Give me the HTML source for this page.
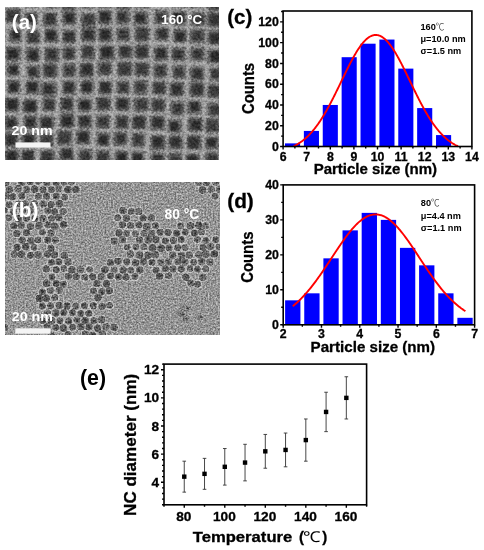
<!DOCTYPE html>
<html><head><meta charset="utf-8"><title>Figure</title>
<style>
html,body{margin:0;padding:0;background:#fff;}
body{width:484px;height:550px;overflow:hidden;}
svg{display:block;}
text{font-family:'Liberation Sans', Arial, sans-serif;}
</style></head><body>
<svg width="484" height="550" viewBox="0 0 484 550">
<defs>
<filter id="blurA" x="-10%" y="-10%" width="120%" height="120%" color-interpolation-filters="sRGB"><feGaussianBlur stdDeviation="1.15"/></filter>
<filter id="noiseA" x="0" y="0" width="100%" height="100%" color-interpolation-filters="sRGB">
<feTurbulence type="fractalNoise" baseFrequency="0.45" numOctaves="2" seed="7" result="n"/>
<feColorMatrix in="n" type="matrix" values="1 0 0 0 0  1 0 0 0 0  1 0 0 0 0  0 0 0 0 1" result="g"/>
<feComponentTransfer in="g" result="g2"><feFuncR type="linear" slope="0.65" intercept="0.175"/><feFuncG type="linear" slope="0.65" intercept="0.175"/><feFuncB type="linear" slope="0.65" intercept="0.175"/></feComponentTransfer>
<feBlend in="g2" in2="SourceGraphic" mode="overlay" result="b"/>
<feGaussianBlur in="b" stdDeviation="0.75"/>
</filter>
<filter id="blurB" x="-5%" y="-5%" width="110%" height="110%" color-interpolation-filters="sRGB"><feGaussianBlur stdDeviation="0.55"/></filter>
<filter id="noiseB" x="0" y="0" width="100%" height="100%" color-interpolation-filters="sRGB">
<feTurbulence type="fractalNoise" baseFrequency="0.6" numOctaves="2" seed="11" result="n"/>
<feColorMatrix in="n" type="matrix" values="1 0 0 0 0  1 0 0 0 0  1 0 0 0 0  0 0 0 0 1" result="g"/>
<feComponentTransfer in="g" result="g2"><feFuncR type="linear" slope="0.85" intercept="0.075"/><feFuncG type="linear" slope="0.85" intercept="0.075"/><feFuncB type="linear" slope="0.85" intercept="0.075"/></feComponentTransfer>
<feBlend in="g2" in2="SourceGraphic" mode="overlay" result="b"/>
<feGaussianBlur in="b" stdDeviation="0.45"/>
</filter>
</defs>
<svg x="5" y="7" width="214" height="153" viewBox="0 0 214 153" overflow="hidden">
<g filter="url(#noiseA)">
<rect width="214" height="153" fill="#a2a2a2"/>
<g filter="url(#blurA)">
<rect x="-17.72" y="-15.87" width="14.53" height="14.32" rx="2" fill="rgb(96,96,96)"/>
<rect x="1.61" y="-15.88" width="14.49" height="13.82" rx="2" fill="rgb(92,92,92)"/>
<rect x="18.63" y="-14.99" width="15.13" height="15.19" rx="2" fill="rgb(100,100,100)"/>
<rect x="39" y="-13.13" width="14" height="14.69" rx="2" fill="rgb(91,91,91)"/>
<rect x="56.27" y="-11.46" width="15.01" height="14.53" rx="2" fill="rgb(88,88,88)"/>
<rect x="74.65" y="-13.67" width="15.04" height="14.86" rx="2" fill="rgb(87,87,87)"/>
<rect x="92.03" y="-14.23" width="14.96" height="15.01" rx="2" fill="rgb(89,89,89)"/>
<rect x="111.07" y="-12.55" width="15.64" height="14.8" rx="2" fill="rgb(86,86,86)"/>
<rect x="128.71" y="-13.11" width="15.29" height="14.42" rx="2" fill="rgb(89,89,89)"/>
<rect x="149.2" y="-14.91" width="13.42" height="13.99" rx="2" fill="rgb(92,92,92)"/>
<rect x="167.3" y="-14.04" width="14.28" height="14.68" rx="2" fill="rgb(94,94,94)"/>
<rect x="184.32" y="-13.17" width="14.46" height="14.29" rx="2" fill="rgb(88,88,88)"/>
<rect x="202.24" y="-10.95" width="15.61" height="14.75" rx="2" fill="rgb(89,89,89)"/>
<rect x="222.02" y="-9.63" width="14.07" height="14.74" rx="2" fill="rgb(100,100,100)"/>
<rect x="239.76" y="-9.07" width="15.2" height="15.07" rx="2" fill="rgb(98,98,98)"/>
<rect x="-16.3" y="0.67" width="15.11" height="14.96" rx="2" fill="rgb(93,93,93)"/>
<rect x="0.45" y="1.37" width="15.98" height="15" rx="2" fill="rgb(89,89,89)"/>
<rect x="19.39" y="4.69" width="13.68" height="14.37" rx="2" fill="rgb(101,101,101)"/>
<rect x="38.01" y="5.09" width="14.11" height="15.02" rx="2" fill="rgb(97,97,97)"/>
<rect x="56.96" y="3.62" width="14.47" height="14.81" rx="2" fill="rgb(98,98,98)"/>
<rect x="75.44" y="6.01" width="15.5" height="14.51" rx="2" fill="rgb(100,100,100)"/>
<rect x="93.15" y="3.04" width="13.7" height="14.64" rx="2" fill="rgb(89,89,89)"/>
<rect x="111.03" y="3.27" width="13.97" height="14.65" rx="2" fill="rgb(95,95,95)"/>
<rect x="128.33" y="4.28" width="15.16" height="14.24" rx="2" fill="rgb(100,100,100)"/>
<rect x="149.19" y="2.97" width="14.48" height="14.44" rx="2" fill="rgb(98,98,98)"/>
<rect x="166.66" y="4.05" width="14.82" height="14.58" rx="2" fill="rgb(92,92,92)"/>
<rect x="185.72" y="4.9" width="14.84" height="14.4" rx="2" fill="rgb(89,89,89)"/>
<rect x="202.01" y="5.12" width="15.21" height="15.17" rx="2" fill="rgb(86,86,86)"/>
<rect x="221.46" y="5.73" width="14.54" height="14.38" rx="2" fill="rgb(100,100,100)"/>
<rect x="238.75" y="7.71" width="13.81" height="14.69" rx="2" fill="rgb(95,95,95)"/>
<rect x="-15.72" y="19.24" width="14.46" height="14.75" rx="2" fill="rgb(88,88,88)"/>
<rect x="3.54" y="21.55" width="12.95" height="13.83" rx="2" fill="rgb(96,96,96)"/>
<rect x="21.2" y="22.95" width="14.06" height="14.15" rx="2" fill="rgb(97,97,97)"/>
<rect x="39.35" y="21.77" width="13.93" height="14.31" rx="2" fill="rgb(92,92,92)"/>
<rect x="57.05" y="22.58" width="13.97" height="14.22" rx="2" fill="rgb(101,101,101)"/>
<rect x="75.85" y="20.51" width="15.07" height="14.6" rx="2" fill="rgb(88,88,88)"/>
<rect x="93.28" y="20.23" width="14.4" height="14.93" rx="2" fill="rgb(97,97,97)"/>
<rect x="111.47" y="20.31" width="13.98" height="14.78" rx="2" fill="rgb(99,99,99)"/>
<rect x="129.69" y="19.77" width="14.84" height="14.97" rx="2" fill="rgb(88,88,88)"/>
<rect x="149.51" y="20.02" width="14.57" height="14.27" rx="2" fill="rgb(102,102,102)"/>
<rect x="168.5" y="21.64" width="13.36" height="14.12" rx="2" fill="rgb(92,92,92)"/>
<rect x="184.75" y="21.66" width="15.61" height="14.93" rx="2" fill="rgb(93,93,93)"/>
<rect x="202.34" y="22.98" width="15.21" height="14.93" rx="2" fill="rgb(97,97,97)"/>
<rect x="223.09" y="24.41" width="13.57" height="13.98" rx="2" fill="rgb(87,87,87)"/>
<rect x="241.08" y="24.37" width="14.12" height="14.28" rx="2" fill="rgb(96,96,96)"/>
<rect x="-16.13" y="36.77" width="14.4" height="15.09" rx="2" fill="rgb(93,93,93)"/>
<rect x="0.29" y="39.28" width="16.01" height="15.03" rx="2" fill="rgb(99,99,99)"/>
<rect x="20.44" y="40.07" width="14.54" height="15.1" rx="2" fill="rgb(100,100,100)"/>
<rect x="39.44" y="40.27" width="14.77" height="14.73" rx="2" fill="rgb(88,88,88)"/>
<rect x="57.31" y="39.09" width="13.25" height="14.12" rx="2" fill="rgb(94,94,94)"/>
<rect x="76" y="37.99" width="14.02" height="14.93" rx="2" fill="rgb(92,92,92)"/>
<rect x="94.19" y="38.34" width="15.89" height="15.09" rx="2" fill="rgb(96,96,96)"/>
<rect x="113.27" y="38.28" width="14.31" height="13.82" rx="2" fill="rgb(91,91,91)"/>
<rect x="129.44" y="37.17" width="14.78" height="14.73" rx="2" fill="rgb(92,92,92)"/>
<rect x="148.59" y="39.45" width="14.34" height="14.66" rx="2" fill="rgb(92,92,92)"/>
<rect x="166.12" y="40.34" width="15.03" height="14.47" rx="2" fill="rgb(100,100,100)"/>
<rect x="184.61" y="39.71" width="15.18" height="14.55" rx="2" fill="rgb(99,99,99)"/>
<rect x="202.18" y="41.95" width="15.7" height="15.09" rx="2" fill="rgb(97,97,97)"/>
<rect x="222.32" y="40.68" width="15.41" height="14.68" rx="2" fill="rgb(92,92,92)"/>
<rect x="239.2" y="41.65" width="14.23" height="14.18" rx="2" fill="rgb(99,99,99)"/>
<rect x="-16.31" y="54.88" width="13.89" height="14.89" rx="2" fill="rgb(101,101,101)"/>
<rect x="1.42" y="55.42" width="13.11" height="13.97" rx="2" fill="rgb(99,99,99)"/>
<rect x="21.71" y="57.91" width="13.92" height="13.92" rx="2" fill="rgb(101,101,101)"/>
<rect x="37.96" y="56.37" width="14.59" height="14.29" rx="2" fill="rgb(87,87,87)"/>
<rect x="57.4" y="56.2" width="13.73" height="14.07" rx="2" fill="rgb(95,95,95)"/>
<rect x="74.08" y="55.71" width="14.56" height="14.8" rx="2" fill="rgb(86,86,86)"/>
<rect x="92.28" y="54.42" width="14.53" height="14.32" rx="2" fill="rgb(91,91,91)"/>
<rect x="112.09" y="54.46" width="15.17" height="14.92" rx="2" fill="rgb(89,89,89)"/>
<rect x="129.61" y="54.98" width="14.9" height="14.49" rx="2" fill="rgb(86,86,86)"/>
<rect x="148.36" y="56.66" width="13.94" height="14.45" rx="2" fill="rgb(90,90,90)"/>
<rect x="167.05" y="58.03" width="13.75" height="13.9" rx="2" fill="rgb(95,95,95)"/>
<rect x="184.51" y="59" width="14.86" height="15.11" rx="2" fill="rgb(102,102,102)"/>
<rect x="204.42" y="60.03" width="14.1" height="14.17" rx="2" fill="rgb(102,102,102)"/>
<rect x="220.01" y="60.11" width="15.5" height="14.73" rx="2" fill="rgb(87,87,87)"/>
<rect x="240.32" y="59.47" width="14.95" height="14.83" rx="2" fill="rgb(101,101,101)"/>
<rect x="-17.68" y="73.52" width="13.09" height="13.81" rx="2" fill="rgb(87,87,87)"/>
<rect x="2.35" y="72.85" width="13.13" height="13.93" rx="2" fill="rgb(92,92,92)"/>
<rect x="20.23" y="73.56" width="14.52" height="13.83" rx="2" fill="rgb(92,92,92)"/>
<rect x="36.11" y="74.64" width="15.42" height="14.74" rx="2" fill="rgb(94,94,94)"/>
<rect x="57.28" y="73.31" width="13.99" height="14.92" rx="2" fill="rgb(101,101,101)"/>
<rect x="75.09" y="72.57" width="14.01" height="14.8" rx="2" fill="rgb(99,99,99)"/>
<rect x="93.58" y="73.73" width="13.53" height="13.89" rx="2" fill="rgb(87,87,87)"/>
<rect x="111.42" y="73.39" width="13.5" height="14.14" rx="2" fill="rgb(97,97,97)"/>
<rect x="128.33" y="73.06" width="14.64" height="14.85" rx="2" fill="rgb(100,100,100)"/>
<rect x="147.19" y="73.77" width="14.13" height="14.29" rx="2" fill="rgb(92,92,92)"/>
<rect x="164.32" y="74.74" width="14.99" height="15.16" rx="2" fill="rgb(95,95,95)"/>
<rect x="184.21" y="75.02" width="15.28" height="14.77" rx="2" fill="rgb(90,90,90)"/>
<rect x="202.57" y="76.65" width="14.76" height="14.48" rx="2" fill="rgb(89,89,89)"/>
<rect x="221.62" y="76" width="14.43" height="13.93" rx="2" fill="rgb(100,100,100)"/>
<rect x="239.76" y="76.3" width="14.86" height="14.42" rx="2" fill="rgb(95,95,95)"/>
<rect x="-19.16" y="90.28" width="14.25" height="14.08" rx="2" fill="rgb(99,99,99)"/>
<rect x="-1.24" y="90.42" width="15.67" height="14.77" rx="2" fill="rgb(100,100,100)"/>
<rect x="17.31" y="91.89" width="15.09" height="14.38" rx="2" fill="rgb(88,88,88)"/>
<rect x="37.32" y="90.48" width="13.15" height="14.1" rx="2" fill="rgb(92,92,92)"/>
<rect x="55.04" y="90.19" width="13.76" height="14.04" rx="2" fill="rgb(90,90,90)"/>
<rect x="72.32" y="90.68" width="14.98" height="14" rx="2" fill="rgb(101,101,101)"/>
<rect x="90.96" y="89.81" width="15.12" height="14.46" rx="2" fill="rgb(95,95,95)"/>
<rect x="110.26" y="90.02" width="14.92" height="14.47" rx="2" fill="rgb(98,98,98)"/>
<rect x="128.23" y="90.25" width="15.75" height="14.83" rx="2" fill="rgb(97,97,97)"/>
<rect x="146.11" y="91.26" width="14.56" height="14.13" rx="2" fill="rgb(91,91,91)"/>
<rect x="165" y="93.81" width="14.48" height="15" rx="2" fill="rgb(99,99,99)"/>
<rect x="182.04" y="93.25" width="14.47" height="14.06" rx="2" fill="rgb(95,95,95)"/>
<rect x="201.87" y="95.17" width="14.89" height="14.16" rx="2" fill="rgb(100,100,100)"/>
<rect x="219.2" y="93.38" width="13.99" height="14.82" rx="2" fill="rgb(101,101,101)"/>
<rect x="236.96" y="94.2" width="13.92" height="14.21" rx="2" fill="rgb(102,102,102)"/>
<rect x="-18.68" y="109.1" width="13.48" height="13.81" rx="2" fill="rgb(93,93,93)"/>
<rect x="-1.14" y="108.78" width="14.26" height="14.09" rx="2" fill="rgb(97,97,97)"/>
<rect x="18.74" y="108.1" width="13.8" height="14.56" rx="2" fill="rgb(95,95,95)"/>
<rect x="34.8" y="108.56" width="14.73" height="13.96" rx="2" fill="rgb(95,95,95)"/>
<rect x="54.68" y="105.88" width="14.87" height="15.12" rx="2" fill="rgb(86,86,86)"/>
<rect x="72.78" y="107.65" width="14.57" height="14.21" rx="2" fill="rgb(100,100,100)"/>
<rect x="90.71" y="107.87" width="14.68" height="14.17" rx="2" fill="rgb(97,97,97)"/>
<rect x="110.26" y="107.91" width="13.78" height="14.55" rx="2" fill="rgb(97,97,97)"/>
<rect x="126.66" y="107.94" width="15.16" height="14.81" rx="2" fill="rgb(95,95,95)"/>
<rect x="145.24" y="108.69" width="14.97" height="14.7" rx="2" fill="rgb(93,93,93)"/>
<rect x="163.04" y="111.5" width="13.96" height="14.72" rx="2" fill="rgb(102,102,102)"/>
<rect x="182.92" y="110.33" width="14.71" height="14.26" rx="2" fill="rgb(86,86,86)"/>
<rect x="200.4" y="111.22" width="14.62" height="14.71" rx="2" fill="rgb(86,86,86)"/>
<rect x="218.1" y="110.23" width="14.33" height="13.9" rx="2" fill="rgb(90,90,90)"/>
<rect x="237.44" y="110.08" width="14.55" height="14.84" rx="2" fill="rgb(102,102,102)"/>
<rect x="-20.24" y="125.23" width="14.11" height="15.02" rx="2" fill="rgb(90,90,90)"/>
<rect x="-1.56" y="125" width="14.58" height="14.88" rx="2" fill="rgb(86,86,86)"/>
<rect x="16.04" y="125.16" width="15.1" height="14.56" rx="2" fill="rgb(91,91,91)"/>
<rect x="35.19" y="125.99" width="13.5" height="13.96" rx="2" fill="rgb(87,87,87)"/>
<rect x="51.91" y="123.07" width="15.35" height="14.89" rx="2" fill="rgb(86,86,86)"/>
<rect x="70.67" y="123.33" width="14.87" height="14.38" rx="2" fill="rgb(92,92,92)"/>
<rect x="91.08" y="124.99" width="13.92" height="14.63" rx="2" fill="rgb(100,100,100)"/>
<rect x="107.92" y="124.41" width="14.68" height="14.54" rx="2" fill="rgb(97,97,97)"/>
<rect x="126.07" y="125.48" width="13.95" height="14.89" rx="2" fill="rgb(97,97,97)"/>
<rect x="145.46" y="128.12" width="14.9" height="15.13" rx="2" fill="rgb(87,87,87)"/>
<rect x="162.74" y="128.33" width="15.64" height="14.69" rx="2" fill="rgb(101,101,101)"/>
<rect x="181.72" y="127.73" width="14.97" height="15" rx="2" fill="rgb(91,91,91)"/>
<rect x="200.11" y="129.23" width="14.34" height="13.8" rx="2" fill="rgb(93,93,93)"/>
<rect x="218.52" y="127.7" width="14.45" height="14.53" rx="2" fill="rgb(86,86,86)"/>
<rect x="235.9" y="127.51" width="13.85" height="13.85" rx="2" fill="rgb(94,94,94)"/>
<rect x="-19.83" y="142.97" width="15.51" height="14.59" rx="2" fill="rgb(99,99,99)"/>
<rect x="-0.72" y="141.81" width="15.16" height="14.91" rx="2" fill="rgb(96,96,96)"/>
<rect x="16.33" y="142.23" width="13.28" height="14.13" rx="2" fill="rgb(87,87,87)"/>
<rect x="35.05" y="143.03" width="14.99" height="14.25" rx="2" fill="rgb(89,89,89)"/>
<rect x="53.65" y="140.19" width="15.2" height="15" rx="2" fill="rgb(100,100,100)"/>
<rect x="72.89" y="141.85" width="14.52" height="14.84" rx="2" fill="rgb(95,95,95)"/>
<rect x="90.7" y="142.91" width="14.88" height="15.01" rx="2" fill="rgb(94,94,94)"/>
<rect x="109.79" y="143.27" width="13.04" height="13.95" rx="2" fill="rgb(93,93,93)"/>
<rect x="125.84" y="143.63" width="14.02" height="14.03" rx="2" fill="rgb(101,101,101)"/>
<rect x="145.42" y="145.29" width="14.69" height="14.39" rx="2" fill="rgb(99,99,99)"/>
<rect x="162.7" y="145.43" width="14.66" height="14.86" rx="2" fill="rgb(94,94,94)"/>
<rect x="180.74" y="146.62" width="14.54" height="14.81" rx="2" fill="rgb(96,96,96)"/>
<rect x="199.77" y="145.33" width="14.08" height="14.64" rx="2" fill="rgb(87,87,87)"/>
<rect x="217.06" y="143.73" width="14.18" height="14.9" rx="2" fill="rgb(86,86,86)"/>
<rect x="236.92" y="143.56" width="13.43" height="14.09" rx="2" fill="rgb(99,99,99)"/>
<rect x="-18.76" y="159.86" width="13.06" height="13.84" rx="2" fill="rgb(87,87,87)"/>
<rect x="-1.01" y="160.27" width="12.93" height="13.88" rx="2" fill="rgb(91,91,91)"/>
<rect x="17.54" y="158.98" width="13.89" height="14.78" rx="2" fill="rgb(93,93,93)"/>
<rect x="35.28" y="158.88" width="14.77" height="13.84" rx="2" fill="rgb(90,90,90)"/>
<rect x="53.59" y="157.6" width="13.79" height="14.46" rx="2" fill="rgb(99,99,99)"/>
<rect x="73.3" y="158.83" width="13.08" height="13.97" rx="2" fill="rgb(102,102,102)"/>
<rect x="91" y="158.99" width="14.83" height="14.9" rx="2" fill="rgb(96,96,96)"/>
<rect x="110.4" y="160.53" width="13.68" height="14.15" rx="2" fill="rgb(90,90,90)"/>
<rect x="128.5" y="162.41" width="13.47" height="14.28" rx="2" fill="rgb(94,94,94)"/>
<rect x="146.38" y="163.91" width="13.64" height="14.63" rx="2" fill="rgb(86,86,86)"/>
<rect x="163.24" y="162.22" width="13.11" height="14.04" rx="2" fill="rgb(91,91,91)"/>
<rect x="180.93" y="162.97" width="14.46" height="15.06" rx="2" fill="rgb(87,87,87)"/>
<rect x="200.97" y="162.01" width="15.76" height="14.93" rx="2" fill="rgb(86,86,86)"/>
<rect x="219.84" y="160.59" width="14.44" height="14.23" rx="2" fill="rgb(101,101,101)"/>
<rect x="237.93" y="160.35" width="14.91" height="14.21" rx="2" fill="rgb(87,87,87)"/>
<rect x="-19.83" y="177.34" width="14.63" height="14.27" rx="2" fill="rgb(100,100,100)"/>
<rect x="0.25" y="175.95" width="15.3" height="14.84" rx="2" fill="rgb(100,100,100)"/>
<rect x="18.55" y="176.18" width="14.82" height="15.09" rx="2" fill="rgb(102,102,102)"/>
<rect x="35.74" y="175.04" width="14.85" height="14.89" rx="2" fill="rgb(102,102,102)"/>
<rect x="53.58" y="174.99" width="15.02" height="14.81" rx="2" fill="rgb(99,99,99)"/>
<rect x="73.64" y="176.31" width="13.79" height="14.48" rx="2" fill="rgb(97,97,97)"/>
<rect x="91.35" y="176.36" width="14.97" height="14.45" rx="2" fill="rgb(102,102,102)"/>
<rect x="109.64" y="177.85" width="14.82" height="14.13" rx="2" fill="rgb(91,91,91)"/>
<rect x="127.8" y="180.41" width="14.92" height="15.02" rx="2" fill="rgb(95,95,95)"/>
<rect x="147.22" y="180.97" width="14.01" height="14.27" rx="2" fill="rgb(91,91,91)"/>
<rect x="163.2" y="179.7" width="14.35" height="15.14" rx="2" fill="rgb(88,88,88)"/>
<rect x="182.86" y="179.15" width="14.21" height="13.91" rx="2" fill="rgb(90,90,90)"/>
<rect x="200.26" y="178.31" width="14.3" height="14.01" rx="2" fill="rgb(89,89,89)"/>
<rect x="219.08" y="177.62" width="15.06" height="14.12" rx="2" fill="rgb(99,99,99)"/>
<rect x="236.49" y="178.75" width="14.95" height="14.39" rx="2" fill="rgb(97,97,97)"/>
<rect x="-14.58" y="-13.33" width="9.22" height="9.09" rx="1.5" fill="rgb(54,54,54)"/>
<rect x="4.22" y="-13.07" width="8.68" height="8.27" rx="1.5" fill="rgb(56,56,56)"/>
<rect x="20.94" y="-12.31" width="9.66" height="9.7" rx="1.5" fill="rgb(53,53,53)"/>
<rect x="40.68" y="-10.47" width="9.15" height="9.6" rx="1.5" fill="rgb(58,58,58)"/>
<rect x="58.72" y="-8.06" width="8.92" height="8.63" rx="1.5" fill="rgb(57,57,57)"/>
<rect x="77.99" y="-10.85" width="8.91" height="8.8" rx="1.5" fill="rgb(48,48,48)"/>
<rect x="95.14" y="-11" width="9.55" height="9.58" rx="1.5" fill="rgb(56,56,56)"/>
<rect x="114.85" y="-10.13" width="9.44" height="8.93" rx="1.5" fill="rgb(54,54,54)"/>
<rect x="130.89" y="-11.62" width="10.6" height="9.99" rx="1.5" fill="rgb(52,52,52)"/>
<rect x="151.96" y="-13.06" width="9.32" height="9.71" rx="1.5" fill="rgb(46,46,46)"/>
<rect x="169.08" y="-11.58" width="9.23" height="9.49" rx="1.5" fill="rgb(52,52,52)"/>
<rect x="185.83" y="-11.44" width="10.09" height="9.97" rx="1.5" fill="rgb(53,53,53)"/>
<rect x="205.14" y="-9.12" width="10.44" height="9.86" rx="1.5" fill="rgb(46,46,46)"/>
<rect x="224.48" y="-6.76" width="9.57" height="10.03" rx="1.5" fill="rgb(60,60,60)"/>
<rect x="242.85" y="-6.45" width="10.54" height="10.44" rx="1.5" fill="rgb(40,40,40)"/>
<rect x="-13.4" y="3.2" width="9.25" height="9.16" rx="1.5" fill="rgb(53,53,53)"/>
<rect x="2.75" y="3.99" width="10.34" height="9.7" rx="1.5" fill="rgb(57,57,57)"/>
<rect x="22.79" y="7.07" width="8.17" height="8.59" rx="1.5" fill="rgb(45,45,45)"/>
<rect x="40.64" y="7.06" width="9.33" height="9.93" rx="1.5" fill="rgb(54,54,54)"/>
<rect x="60.05" y="6.27" width="8.7" height="8.91" rx="1.5" fill="rgb(41,41,41)"/>
<rect x="78.53" y="7.62" width="10.52" height="9.85" rx="1.5" fill="rgb(60,60,60)"/>
<rect x="95.4" y="5.02" width="8.83" height="9.43" rx="1.5" fill="rgb(44,44,44)"/>
<rect x="113.05" y="5.55" width="8.41" height="8.82" rx="1.5" fill="rgb(52,52,52)"/>
<rect x="130.79" y="6.91" width="9.06" height="8.51" rx="1.5" fill="rgb(43,43,43)"/>
<rect x="151.67" y="6.64" width="8.53" height="8.51" rx="1.5" fill="rgb(59,59,59)"/>
<rect x="168.5" y="6.02" width="10.34" height="10.17" rx="1.5" fill="rgb(44,44,44)"/>
<rect x="189.3" y="7.79" width="8.79" height="8.53" rx="1.5" fill="rgb(55,55,55)"/>
<rect x="205.29" y="7.73" width="9.79" height="9.76" rx="1.5" fill="rgb(51,51,51)"/>
<rect x="224.17" y="8.26" width="9.24" height="9.14" rx="1.5" fill="rgb(53,53,53)"/>
<rect x="241.08" y="10.8" width="8.76" height="9.32" rx="1.5" fill="rgb(57,57,57)"/>
<rect x="-12.94" y="21" width="10" height="10.21" rx="1.5" fill="rgb(49,49,49)"/>
<rect x="6.55" y="23.6" width="8" height="8.55" rx="1.5" fill="rgb(45,45,45)"/>
<rect x="23.18" y="25.69" width="9.81" height="9.87" rx="1.5" fill="rgb(59,59,59)"/>
<rect x="41.25" y="23.68" width="9.04" height="9.28" rx="1.5" fill="rgb(43,43,43)"/>
<rect x="59.45" y="24.76" width="9.77" height="9.94" rx="1.5" fill="rgb(52,52,52)"/>
<rect x="78.99" y="23.4" width="8.91" height="8.63" rx="1.5" fill="rgb(48,48,48)"/>
<rect x="95.34" y="22.76" width="9.37" height="9.71" rx="1.5" fill="rgb(44,44,44)"/>
<rect x="113.8" y="22.86" width="8.74" height="9.23" rx="1.5" fill="rgb(58,58,58)"/>
<rect x="132.48" y="21.97" width="9.98" height="10.07" rx="1.5" fill="rgb(59,59,59)"/>
<rect x="153.08" y="22.4" width="8.95" height="8.77" rx="1.5" fill="rgb(50,50,50)"/>
<rect x="170.37" y="24.89" width="8.71" height="9.21" rx="1.5" fill="rgb(43,43,43)"/>
<rect x="187.69" y="24.2" width="9.52" height="9.1" rx="1.5" fill="rgb(60,60,60)"/>
<rect x="205.15" y="26.28" width="9.7" height="9.52" rx="1.5" fill="rgb(44,44,44)"/>
<rect x="225.41" y="27.1" width="8.73" height="9" rx="1.5" fill="rgb(59,59,59)"/>
<rect x="243.77" y="27.19" width="8.9" height="9" rx="1.5" fill="rgb(42,42,42)"/>
<rect x="-12.59" y="39.7" width="8.46" height="8.86" rx="1.5" fill="rgb(49,49,49)"/>
<rect x="2.84" y="42.19" width="9.99" height="9.38" rx="1.5" fill="rgb(42,42,42)"/>
<rect x="23.71" y="43.19" width="9.19" height="9.54" rx="1.5" fill="rgb(43,43,43)"/>
<rect x="42.32" y="43.15" width="8.59" height="8.56" rx="1.5" fill="rgb(51,51,51)"/>
<rect x="60.04" y="42.34" width="8.28" height="8.82" rx="1.5" fill="rgb(54,54,54)"/>
<rect x="78.25" y="39.88" width="8.97" height="9.55" rx="1.5" fill="rgb(58,58,58)"/>
<rect x="96.36" y="40.29" width="10.39" height="9.87" rx="1.5" fill="rgb(42,42,42)"/>
<rect x="115.41" y="40.07" width="9.05" height="8.74" rx="1.5" fill="rgb(50,50,50)"/>
<rect x="132.45" y="40.32" width="9.52" height="9.49" rx="1.5" fill="rgb(50,50,50)"/>
<rect x="151.51" y="41.54" width="9.08" height="9.28" rx="1.5" fill="rgb(46,46,46)"/>
<rect x="168.5" y="42.87" width="9.12" height="8.78" rx="1.5" fill="rgb(52,52,52)"/>
<rect x="188.14" y="42.75" width="9.15" height="8.77" rx="1.5" fill="rgb(57,57,57)"/>
<rect x="205.54" y="44.55" width="9.92" height="9.53" rx="1.5" fill="rgb(42,42,42)"/>
<rect x="224.28" y="42.67" width="10.47" height="9.98" rx="1.5" fill="rgb(55,55,55)"/>
<rect x="242.23" y="44.59" width="8.6" height="8.57" rx="1.5" fill="rgb(52,52,52)"/>
<rect x="-14.4" y="58.38" width="8.78" height="9.41" rx="1.5" fill="rgb(49,49,49)"/>
<rect x="4.73" y="58.69" width="7.71" height="8.21" rx="1.5" fill="rgb(42,42,42)"/>
<rect x="23.79" y="60.74" width="8.19" height="8.18" rx="1.5" fill="rgb(50,50,50)"/>
<rect x="39.83" y="59.08" width="9.56" height="9.37" rx="1.5" fill="rgb(53,53,53)"/>
<rect x="60.07" y="59.41" width="8.65" height="8.87" rx="1.5" fill="rgb(60,60,60)"/>
<rect x="77.3" y="57.52" width="9.58" height="9.74" rx="1.5" fill="rgb(46,46,46)"/>
<rect x="96" y="57.44" width="8.47" height="8.35" rx="1.5" fill="rgb(56,56,56)"/>
<rect x="114.01" y="57.37" width="10.31" height="10.14" rx="1.5" fill="rgb(58,58,58)"/>
<rect x="132.13" y="57.61" width="9.35" height="9.1" rx="1.5" fill="rgb(57,57,57)"/>
<rect x="151.22" y="59.24" width="8.46" height="8.77" rx="1.5" fill="rgb(56,56,56)"/>
<rect x="169.88" y="61.03" width="8.19" height="8.28" rx="1.5" fill="rgb(58,58,58)"/>
<rect x="187.93" y="62.02" width="9.18" height="9.34" rx="1.5" fill="rgb(51,51,51)"/>
<rect x="206.51" y="62.72" width="8.52" height="8.56" rx="1.5" fill="rgb(56,56,56)"/>
<rect x="222.66" y="63.21" width="10.16" height="9.65" rx="1.5" fill="rgb(49,49,49)"/>
<rect x="243.42" y="61.24" width="10.15" height="10.06" rx="1.5" fill="rgb(45,45,45)"/>
<rect x="-15.7" y="75.59" width="8.22" height="8.67" rx="1.5" fill="rgb(56,56,56)"/>
<rect x="4.45" y="76.11" width="8.13" height="8.63" rx="1.5" fill="rgb(41,41,41)"/>
<rect x="22.86" y="75.83" width="8.83" height="8.42" rx="1.5" fill="rgb(41,41,41)"/>
<rect x="38.74" y="77.82" width="9.4" height="8.99" rx="1.5" fill="rgb(49,49,49)"/>
<rect x="59.14" y="75.47" width="9.34" height="9.96" rx="1.5" fill="rgb(50,50,50)"/>
<rect x="77.15" y="75.49" width="9.08" height="9.59" rx="1.5" fill="rgb(45,45,45)"/>
<rect x="95.55" y="75.54" width="9.17" height="9.4" rx="1.5" fill="rgb(46,46,46)"/>
<rect x="114" y="76.18" width="8.47" height="8.87" rx="1.5" fill="rgb(56,56,56)"/>
<rect x="130.94" y="75.24" width="9.02" height="9.15" rx="1.5" fill="rgb(60,60,60)"/>
<rect x="149.42" y="76.16" width="9.65" height="9.76" rx="1.5" fill="rgb(57,57,57)"/>
<rect x="166.88" y="77.44" width="9.63" height="9.74" rx="1.5" fill="rgb(48,48,48)"/>
<rect x="187.44" y="77.15" width="10.36" height="10.01" rx="1.5" fill="rgb(52,52,52)"/>
<rect x="204.73" y="79.62" width="9.42" height="9.24" rx="1.5" fill="rgb(59,59,59)"/>
<rect x="223.33" y="77.92" width="9.87" height="9.53" rx="1.5" fill="rgb(50,50,50)"/>
<rect x="242.97" y="78.84" width="9.56" height="9.28" rx="1.5" fill="rgb(51,51,51)"/>
<rect x="-15.62" y="92.91" width="8.52" height="8.42" rx="1.5" fill="rgb(57,57,57)"/>
<rect x="2.02" y="92.53" width="10.19" height="9.6" rx="1.5" fill="rgb(41,41,41)"/>
<rect x="20.6" y="94.45" width="10.02" height="9.55" rx="1.5" fill="rgb(42,42,42)"/>
<rect x="40" y="92.76" width="9.04" height="9.69" rx="1.5" fill="rgb(58,58,58)"/>
<rect x="57.64" y="92.1" width="9.36" height="9.55" rx="1.5" fill="rgb(53,53,53)"/>
<rect x="75.18" y="93.69" width="9.45" height="8.83" rx="1.5" fill="rgb(40,40,40)"/>
<rect x="93.81" y="92.03" width="9.64" height="9.21" rx="1.5" fill="rgb(53,53,53)"/>
<rect x="112.7" y="91.95" width="9.66" height="9.37" rx="1.5" fill="rgb(46,46,46)"/>
<rect x="132.05" y="93.2" width="9.44" height="8.89" rx="1.5" fill="rgb(57,57,57)"/>
<rect x="148.34" y="93.74" width="9.14" height="8.86" rx="1.5" fill="rgb(57,57,57)"/>
<rect x="168.08" y="96.8" width="9.03" height="9.36" rx="1.5" fill="rgb(58,58,58)"/>
<rect x="185.2" y="95.45" width="8.68" height="8.44" rx="1.5" fill="rgb(46,46,46)"/>
<rect x="205.19" y="98.27" width="9.59" height="9.12" rx="1.5" fill="rgb(57,57,57)"/>
<rect x="221.51" y="96.18" width="8.65" height="9.16" rx="1.5" fill="rgb(56,56,56)"/>
<rect x="239.31" y="96.53" width="8.46" height="8.63" rx="1.5" fill="rgb(50,50,50)"/>
<rect x="-16.34" y="111.22" width="8.59" height="8.8" rx="1.5" fill="rgb(43,43,43)"/>
<rect x="2.07" y="112.23" width="8.73" height="8.62" rx="1.5" fill="rgb(45,45,45)"/>
<rect x="21.04" y="110.7" width="8.41" height="8.88" rx="1.5" fill="rgb(47,47,47)"/>
<rect x="36.46" y="111.06" width="10.14" height="9.61" rx="1.5" fill="rgb(50,50,50)"/>
<rect x="57.54" y="109.61" width="9.02" height="9.18" rx="1.5" fill="rgb(42,42,42)"/>
<rect x="74.54" y="109.2" width="9.9" height="9.66" rx="1.5" fill="rgb(50,50,50)"/>
<rect x="93.57" y="110.41" width="8.99" height="8.68" rx="1.5" fill="rgb(55,55,55)"/>
<rect x="112.55" y="110.62" width="9.22" height="9.74" rx="1.5" fill="rgb(54,54,54)"/>
<rect x="128.84" y="109.86" width="10.57" height="10.32" rx="1.5" fill="rgb(53,53,53)"/>
<rect x="147.68" y="110.53" width="9.73" height="9.56" rx="1.5" fill="rgb(48,48,48)"/>
<rect x="164.81" y="114.67" width="8.82" height="9.3" rx="1.5" fill="rgb(45,45,45)"/>
<rect x="186.29" y="113.45" width="9.42" height="9.14" rx="1.5" fill="rgb(44,44,44)"/>
<rect x="202.41" y="114.07" width="9.13" height="9.19" rx="1.5" fill="rgb(60,60,60)"/>
<rect x="220.39" y="113.75" width="8.66" height="8.4" rx="1.5" fill="rgb(51,51,51)"/>
<rect x="240.45" y="112.21" width="9.29" height="9.47" rx="1.5" fill="rgb(42,42,42)"/>
<rect x="-17.06" y="128.45" width="8.75" height="9.32" rx="1.5" fill="rgb(57,57,57)"/>
<rect x="1.58" y="128.62" width="8.7" height="8.87" rx="1.5" fill="rgb(48,48,48)"/>
<rect x="19.44" y="128.34" width="8.93" height="8.61" rx="1.5" fill="rgb(44,44,44)"/>
<rect x="37.64" y="129.38" width="8.46" height="8.75" rx="1.5" fill="rgb(56,56,56)"/>
<rect x="54.2" y="126.32" width="9.72" height="9.43" rx="1.5" fill="rgb(59,59,59)"/>
<rect x="73.86" y="125.58" width="9.13" height="8.83" rx="1.5" fill="rgb(42,42,42)"/>
<rect x="94.09" y="128.3" width="8.64" height="9.08" rx="1.5" fill="rgb(41,41,41)"/>
<rect x="111.4" y="127.19" width="8.69" height="8.61" rx="1.5" fill="rgb(51,51,51)"/>
<rect x="128.89" y="127.93" width="8.84" height="9.43" rx="1.5" fill="rgb(57,57,57)"/>
<rect x="147.77" y="130.11" width="9.43" height="9.58" rx="1.5" fill="rgb(47,47,47)"/>
<rect x="165.67" y="130.56" width="9.5" height="8.92" rx="1.5" fill="rgb(46,46,46)"/>
<rect x="183.37" y="130.27" width="10.45" height="10.47" rx="1.5" fill="rgb(50,50,50)"/>
<rect x="202.11" y="131.13" width="8.82" height="8.49" rx="1.5" fill="rgb(47,47,47)"/>
<rect x="221.28" y="130.57" width="8.77" height="8.82" rx="1.5" fill="rgb(50,50,50)"/>
<rect x="238.34" y="130.05" width="9.3" height="9.3" rx="1.5" fill="rgb(60,60,60)"/>
<rect x="-17.18" y="145.27" width="9.97" height="9.38" rx="1.5" fill="rgb(46,46,46)"/>
<rect x="2.23" y="144.83" width="9.11" height="8.97" rx="1.5" fill="rgb(42,42,42)"/>
<rect x="18.51" y="144.61" width="9.18" height="9.76" rx="1.5" fill="rgb(49,49,49)"/>
<rect x="37.42" y="145.61" width="9.63" height="9.15" rx="1.5" fill="rgb(54,54,54)"/>
<rect x="57.3" y="142.41" width="9.49" height="9.36" rx="1.5" fill="rgb(47,47,47)"/>
<rect x="76.37" y="145.29" width="8.54" height="8.73" rx="1.5" fill="rgb(55,55,55)"/>
<rect x="93.04" y="146.24" width="8.67" height="8.74" rx="1.5" fill="rgb(53,53,53)"/>
<rect x="112.57" y="146.25" width="8.67" height="9.28" rx="1.5" fill="rgb(41,41,41)"/>
<rect x="128.16" y="146.79" width="8.71" height="8.71" rx="1.5" fill="rgb(41,41,41)"/>
<rect x="147.92" y="147.47" width="9.05" height="8.87" rx="1.5" fill="rgb(55,55,55)"/>
<rect x="165.14" y="148.28" width="9.5" height="9.62" rx="1.5" fill="rgb(60,60,60)"/>
<rect x="182.46" y="148.2" width="10.12" height="10.3" rx="1.5" fill="rgb(43,43,43)"/>
<rect x="202.7" y="147.95" width="9.07" height="9.42" rx="1.5" fill="rgb(52,52,52)"/>
<rect x="220.64" y="146.4" width="8.51" height="8.93" rx="1.5" fill="rgb(60,60,60)"/>
<rect x="239.05" y="146.8" width="7.8" height="8.18" rx="1.5" fill="rgb(56,56,56)"/>
<rect x="-16.01" y="162.52" width="8.23" height="8.73" rx="1.5" fill="rgb(42,42,42)"/>
<rect x="1.12" y="163.53" width="8.17" height="8.78" rx="1.5" fill="rgb(52,52,52)"/>
<rect x="20.58" y="161.43" width="8.56" height="9.12" rx="1.5" fill="rgb(50,50,50)"/>
<rect x="37.25" y="160.52" width="9.89" height="9.27" rx="1.5" fill="rgb(55,55,55)"/>
<rect x="56.6" y="159.95" width="9.23" height="9.68" rx="1.5" fill="rgb(48,48,48)"/>
<rect x="75.64" y="161.42" width="8.71" height="9.31" rx="1.5" fill="rgb(46,46,46)"/>
<rect x="93.91" y="161.89" width="8.69" height="8.73" rx="1.5" fill="rgb(58,58,58)"/>
<rect x="112.68" y="163.42" width="8.1" height="8.37" rx="1.5" fill="rgb(50,50,50)"/>
<rect x="130.86" y="165.16" width="8.51" height="9.02" rx="1.5" fill="rgb(48,48,48)"/>
<rect x="148.15" y="166.98" width="8.61" height="9.24" rx="1.5" fill="rgb(52,52,52)"/>
<rect x="166.07" y="164.5" width="8.18" height="8.75" rx="1.5" fill="rgb(52,52,52)"/>
<rect x="184.45" y="166.43" width="8.63" height="8.98" rx="1.5" fill="rgb(47,47,47)"/>
<rect x="204.04" y="163.94" width="10.36" height="9.81" rx="1.5" fill="rgb(40,40,40)"/>
<rect x="222.27" y="163.17" width="9.2" height="9.07" rx="1.5" fill="rgb(52,52,52)"/>
<rect x="240.47" y="162.11" width="9.74" height="9.29" rx="1.5" fill="rgb(53,53,53)"/>
<rect x="-16.72" y="179.24" width="9.74" height="9.5" rx="1.5" fill="rgb(57,57,57)"/>
<rect x="1.99" y="178.63" width="10.67" height="10.35" rx="1.5" fill="rgb(43,43,43)"/>
<rect x="21.71" y="179.95" width="8.81" height="8.97" rx="1.5" fill="rgb(43,43,43)"/>
<rect x="37.78" y="177.56" width="9.59" height="9.62" rx="1.5" fill="rgb(49,49,49)"/>
<rect x="56.9" y="178.17" width="9" height="8.87" rx="1.5" fill="rgb(44,44,44)"/>
<rect x="76.18" y="179.76" width="8.52" height="8.95" rx="1.5" fill="rgb(55,55,55)"/>
<rect x="94.15" y="178.67" width="9.67" height="9.34" rx="1.5" fill="rgb(48,48,48)"/>
<rect x="113.17" y="180.15" width="9.28" height="8.85" rx="1.5" fill="rgb(57,57,57)"/>
<rect x="130.57" y="183.95" width="9.02" height="9.09" rx="1.5" fill="rgb(42,42,42)"/>
<rect x="150.61" y="183.5" width="8.51" height="8.67" rx="1.5" fill="rgb(50,50,50)"/>
<rect x="166.08" y="181.71" width="9.65" height="10.19" rx="1.5" fill="rgb(49,49,49)"/>
<rect x="186.08" y="182.57" width="8.25" height="8.07" rx="1.5" fill="rgb(52,52,52)"/>
<rect x="202.87" y="180.98" width="9.9" height="9.7" rx="1.5" fill="rgb(47,47,47)"/>
<rect x="221.28" y="179.58" width="10.16" height="9.53" rx="1.5" fill="rgb(42,42,42)"/>
<rect x="239.4" y="181.6" width="10.41" height="10.02" rx="1.5" fill="rgb(51,51,51)"/>
</g>
</g>
</svg>
<text transform="translate(11.8 29.2)" font-size="20.5" font-weight="bold" text-anchor="start" fill="#fff" >(a)</text>
<text transform="translate(161.2 24.4) scale(1.07 1)" font-size="12.5" font-weight="bold" text-anchor="start" fill="#fff" >160 °C</text>
<text transform="translate(11.6 134.8) scale(1.05 1)" font-size="13.5" font-weight="bold" text-anchor="start" fill="#fff" >20 nm</text>
<rect x="15.5" y="142.4" width="35" height="5.2" fill="#f4f4f4"/>
<svg x="5" y="182" width="215" height="153" viewBox="0 0 215 153" overflow="hidden">
<g filter="url(#noiseB)">
<rect width="215" height="153" fill="#959595"/>
<g filter="url(#blurB)">
<g fill="#c2c2c2">
<circle cx="0.9" cy="0.63" r="4.7"/>
<circle cx="16.78" cy="0.41" r="4.7"/>
<circle cx="25.16" cy="-0.38" r="4.7"/>
<circle cx="33.43" cy="-0.64" r="4.7"/>
<circle cx="41.78" cy="0.88" r="4.7"/>
<circle cx="51.23" cy="0.23" r="4.7"/>
<circle cx="58.8" cy="-0.29" r="4.7"/>
<circle cx="66.46" cy="-0.41" r="4.7"/>
<circle cx="193.63" cy="0.59" r="4.7"/>
<circle cx="201.33" cy="0.62" r="4.7"/>
<circle cx="210.67" cy="0.34" r="4.7"/>
<circle cx="4.54" cy="7.67" r="4.7"/>
<circle cx="13.01" cy="6.68" r="4.7"/>
<circle cx="21.5" cy="7.42" r="4.7"/>
<circle cx="29.7" cy="7.13" r="4.7"/>
<circle cx="38.02" cy="7.77" r="4.7"/>
<circle cx="46.45" cy="7.67" r="4.7"/>
<circle cx="53.75" cy="6.66" r="4.7"/>
<circle cx="62.89" cy="7.54" r="4.7"/>
<circle cx="70.89" cy="7.61" r="4.7"/>
<circle cx="197.55" cy="8.1" r="4.7"/>
<circle cx="206.37" cy="7.13" r="4.7"/>
<circle cx="214.76" cy="7.53" r="4.7"/>
<circle cx="0.71" cy="13.65" r="4.7"/>
<circle cx="7.69" cy="14.67" r="4.7"/>
<circle cx="17.01" cy="13.9" r="4.7"/>
<circle cx="33.38" cy="14.43" r="4.7"/>
<circle cx="41.51" cy="14.17" r="4.7"/>
<circle cx="51.25" cy="14.33" r="4.7"/>
<circle cx="59.63" cy="15.29" r="4.7"/>
<circle cx="210.06" cy="14.25" r="4.7"/>
<circle cx="4.12" cy="22.57" r="4.7"/>
<circle cx="13.3" cy="21.91" r="4.7"/>
<circle cx="20.13" cy="22.32" r="4.7"/>
<circle cx="29.27" cy="21.96" r="4.7"/>
<circle cx="38.17" cy="22.06" r="4.7"/>
<circle cx="46.17" cy="22.56" r="4.7"/>
<circle cx="54.39" cy="21.63" r="4.7"/>
<circle cx="-0.77" cy="28.3" r="4.7"/>
<circle cx="8.54" cy="29.53" r="4.7"/>
<circle cx="17.48" cy="28.44" r="4.7"/>
<circle cx="25.08" cy="28.76" r="4.7"/>
<circle cx="42.79" cy="28.87" r="4.7"/>
<circle cx="49.6" cy="29.45" r="4.7"/>
<circle cx="58.17" cy="29.33" r="4.7"/>
<circle cx="118.03" cy="28.52" r="4.7"/>
<circle cx="126.38" cy="29.38" r="4.7"/>
<circle cx="133.65" cy="29.4" r="4.7"/>
<circle cx="3.99" cy="35.72" r="4.7"/>
<circle cx="13.2" cy="36.64" r="4.7"/>
<circle cx="21.55" cy="36.25" r="4.7"/>
<circle cx="30.03" cy="36.4" r="4.7"/>
<circle cx="37.97" cy="36.5" r="4.7"/>
<circle cx="46.63" cy="36.18" r="4.7"/>
<circle cx="53.87" cy="35.53" r="4.7"/>
<circle cx="112.78" cy="35.76" r="4.7"/>
<circle cx="121.57" cy="36.17" r="4.7"/>
<circle cx="138.16" cy="35.97" r="4.7"/>
<circle cx="146.39" cy="35.99" r="4.7"/>
<circle cx="8.82" cy="44.04" r="4.7"/>
<circle cx="16.19" cy="43.18" r="4.7"/>
<circle cx="25.51" cy="44.44" r="4.7"/>
<circle cx="33.86" cy="43.52" r="4.7"/>
<circle cx="42.86" cy="42.76" r="4.7"/>
<circle cx="49.61" cy="44.15" r="4.7"/>
<circle cx="58.64" cy="42.83" r="4.7"/>
<circle cx="117.42" cy="42.85" r="4.7"/>
<circle cx="125.56" cy="43.48" r="4.7"/>
<circle cx="134.05" cy="42.84" r="4.7"/>
<circle cx="141.97" cy="44.5" r="4.7"/>
<circle cx="150.62" cy="43.66" r="4.7"/>
<circle cx="175.69" cy="43.72" r="4.7"/>
<circle cx="185.56" cy="43.82" r="4.7"/>
<circle cx="193.84" cy="43.13" r="4.7"/>
<circle cx="200.73" cy="43.72" r="4.7"/>
<circle cx="11.86" cy="51.41" r="4.7"/>
<circle cx="21.57" cy="50.58" r="4.7"/>
<circle cx="37.34" cy="50.17" r="4.7"/>
<circle cx="46.07" cy="51.06" r="4.7"/>
<circle cx="113.87" cy="51.06" r="4.7"/>
<circle cx="121.7" cy="51.49" r="4.7"/>
<circle cx="130.48" cy="51.74" r="4.7"/>
<circle cx="139.01" cy="51.28" r="4.7"/>
<circle cx="146.58" cy="51.48" r="4.7"/>
<circle cx="155.19" cy="50.26" r="4.7"/>
<circle cx="163.02" cy="50.33" r="4.7"/>
<circle cx="171.77" cy="51.24" r="4.7"/>
<circle cx="180.21" cy="50.14" r="4.7"/>
<circle cx="189.47" cy="51.02" r="4.7"/>
<circle cx="196.55" cy="50.11" r="4.7"/>
<circle cx="17.18" cy="58.1" r="4.7"/>
<circle cx="25.99" cy="58.73" r="4.7"/>
<circle cx="32.91" cy="57.87" r="4.7"/>
<circle cx="42.75" cy="58.12" r="4.7"/>
<circle cx="50.28" cy="58.09" r="4.7"/>
<circle cx="109.17" cy="58.88" r="4.7"/>
<circle cx="117.41" cy="57.68" r="4.7"/>
<circle cx="134.51" cy="57.94" r="4.7"/>
<circle cx="143.25" cy="57.73" r="4.7"/>
<circle cx="150.93" cy="57.74" r="4.7"/>
<circle cx="160.47" cy="58.81" r="4.7"/>
<circle cx="168.63" cy="58.41" r="4.7"/>
<circle cx="176.22" cy="57.55" r="4.7"/>
<circle cx="192.37" cy="57.6" r="4.7"/>
<circle cx="200.88" cy="58.59" r="4.7"/>
<circle cx="210.72" cy="57.65" r="4.7"/>
<circle cx="12.03" cy="65.27" r="4.7"/>
<circle cx="20.67" cy="64.62" r="4.7"/>
<circle cx="29.06" cy="65.26" r="4.7"/>
<circle cx="46.02" cy="66.34" r="4.7"/>
<circle cx="122.19" cy="65.12" r="4.7"/>
<circle cx="130.97" cy="65.06" r="4.7"/>
<circle cx="138.99" cy="64.7" r="4.7"/>
<circle cx="147.46" cy="65.78" r="4.7"/>
<circle cx="156.22" cy="66.18" r="4.7"/>
<circle cx="164.14" cy="66.08" r="4.7"/>
<circle cx="172.63" cy="65.67" r="4.7"/>
<circle cx="180.08" cy="65.5" r="4.7"/>
<circle cx="198.25" cy="65.55" r="4.7"/>
<circle cx="205.61" cy="64.57" r="4.7"/>
<circle cx="214" cy="64.89" r="4.7"/>
<circle cx="9.1" cy="72.23" r="4.7"/>
<circle cx="16.45" cy="72.33" r="4.7"/>
<circle cx="25.42" cy="73.46" r="4.7"/>
<circle cx="33" cy="72.98" r="4.7"/>
<circle cx="42.48" cy="72.25" r="4.7"/>
<circle cx="49.61" cy="72.86" r="4.7"/>
<circle cx="59.39" cy="73.43" r="4.7"/>
<circle cx="125.43" cy="72.19" r="4.7"/>
<circle cx="134.57" cy="73.01" r="4.7"/>
<circle cx="143.14" cy="73.16" r="4.7"/>
<circle cx="150.41" cy="72.72" r="4.7"/>
<circle cx="167.67" cy="73.37" r="4.7"/>
<circle cx="176.66" cy="73.51" r="4.7"/>
<circle cx="184.31" cy="73.1" r="4.7"/>
<circle cx="193.81" cy="72.7" r="4.7"/>
<circle cx="200.88" cy="72.19" r="4.7"/>
<circle cx="209.38" cy="72.01" r="4.7"/>
<circle cx="46.52" cy="80.46" r="4.7"/>
<circle cx="53.85" cy="79.84" r="4.7"/>
<circle cx="63.08" cy="79.79" r="4.7"/>
<circle cx="105.47" cy="80.42" r="4.7"/>
<circle cx="113.03" cy="79.33" r="4.7"/>
<circle cx="121.76" cy="79.76" r="4.7"/>
<circle cx="130.63" cy="80.77" r="4.7"/>
<circle cx="138.39" cy="79.64" r="4.7"/>
<circle cx="147" cy="80.37" r="4.7"/>
<circle cx="155.92" cy="80.15" r="4.7"/>
<circle cx="163.43" cy="79.72" r="4.7"/>
<circle cx="172.83" cy="80.05" r="4.7"/>
<circle cx="179.79" cy="79.88" r="4.7"/>
<circle cx="188.53" cy="80.32" r="4.7"/>
<circle cx="196.63" cy="79.61" r="4.7"/>
<circle cx="205.07" cy="79.98" r="4.7"/>
<circle cx="41.25" cy="86.9" r="4.7"/>
<circle cx="51.22" cy="87.63" r="4.7"/>
<circle cx="58.81" cy="86.49" r="4.7"/>
<circle cx="67.01" cy="87.79" r="4.7"/>
<circle cx="75.48" cy="87.46" r="4.7"/>
<circle cx="84.72" cy="87.55" r="4.7"/>
<circle cx="99.94" cy="87.78" r="4.7"/>
<circle cx="109.04" cy="87.97" r="4.7"/>
<circle cx="118.19" cy="88.04" r="4.7"/>
<circle cx="125.78" cy="88.19" r="4.7"/>
<circle cx="134.86" cy="88" r="4.7"/>
<circle cx="151.06" cy="88.14" r="4.7"/>
<circle cx="160.49" cy="86.78" r="4.7"/>
<circle cx="167.86" cy="86.88" r="4.7"/>
<circle cx="176.35" cy="86.91" r="4.7"/>
<circle cx="185.1" cy="86.61" r="4.7"/>
<circle cx="192.6" cy="87.22" r="4.7"/>
<circle cx="200.83" cy="87.08" r="4.7"/>
<circle cx="47.05" cy="94.93" r="4.7"/>
<circle cx="63.26" cy="94.34" r="4.7"/>
<circle cx="71.16" cy="94.53" r="4.7"/>
<circle cx="79.95" cy="95.41" r="4.7"/>
<circle cx="87.73" cy="94.69" r="4.7"/>
<circle cx="96.17" cy="94.65" r="4.7"/>
<circle cx="105.42" cy="93.91" r="4.7"/>
<circle cx="113.37" cy="94.94" r="4.7"/>
<circle cx="120.91" cy="95.06" r="4.7"/>
<circle cx="130.05" cy="94.57" r="4.7"/>
<circle cx="154.57" cy="94.36" r="4.7"/>
<circle cx="163.52" cy="93.71" r="4.7"/>
<circle cx="180.88" cy="95.33" r="4.7"/>
<circle cx="197.78" cy="95.35" r="4.7"/>
<circle cx="41.72" cy="101.2" r="4.7"/>
<circle cx="51.24" cy="101.42" r="4.7"/>
<circle cx="58.4" cy="102.35" r="4.7"/>
<circle cx="91.94" cy="101.42" r="4.7"/>
<circle cx="101.48" cy="101.73" r="4.7"/>
<circle cx="185.61" cy="101.14" r="4.7"/>
<circle cx="192.42" cy="102.17" r="4.7"/>
<circle cx="37.37" cy="109.92" r="4.7"/>
<circle cx="45.67" cy="108.37" r="4.7"/>
<circle cx="54.33" cy="108.36" r="4.7"/>
<circle cx="88.54" cy="109.02" r="4.7"/>
<circle cx="96.73" cy="109.86" r="4.7"/>
<circle cx="104.36" cy="108.7" r="4.7"/>
<circle cx="34.31" cy="116.4" r="4.7"/>
<circle cx="41.29" cy="116.24" r="4.7"/>
<circle cx="49.91" cy="115.54" r="4.7"/>
<circle cx="92.88" cy="115.7" r="4.7"/>
<circle cx="37.19" cy="124.02" r="4.7"/>
<circle cx="45.49" cy="123.81" r="4.7"/>
<circle cx="54.15" cy="123.41" r="4.7"/>
<circle cx="62.19" cy="124.06" r="4.7"/>
<circle cx="70.72" cy="124.14" r="4.7"/>
<circle cx="79.51" cy="123.83" r="4.7"/>
<circle cx="88.45" cy="123.64" r="4.7"/>
<circle cx="97.27" cy="124.42" r="4.7"/>
<circle cx="104.61" cy="123.37" r="4.7"/>
<circle cx="42.28" cy="131.09" r="4.7"/>
<circle cx="50.84" cy="130.95" r="4.7"/>
<circle cx="58.68" cy="130.59" r="4.7"/>
<circle cx="67.62" cy="130.71" r="4.7"/>
<circle cx="75.77" cy="131.4" r="4.7"/>
<circle cx="83.9" cy="131.27" r="4.7"/>
<circle cx="37.72" cy="138.7" r="4.7"/>
<circle cx="46.55" cy="138.86" r="4.7"/>
<circle cx="54.93" cy="138.69" r="4.7"/>
<circle cx="63.67" cy="138.96" r="4.7"/>
<circle cx="71.93" cy="138.06" r="4.7"/>
<circle cx="80.09" cy="138.5" r="4.7"/>
<circle cx="88.89" cy="138.6" r="4.7"/>
<circle cx="96.5" cy="137.66" r="4.7"/>
<circle cx="-0.13" cy="145.38" r="4.7"/>
<circle cx="42.17" cy="144.76" r="4.7"/>
<circle cx="50.81" cy="145.32" r="4.7"/>
<circle cx="58.48" cy="146.13" r="4.7"/>
<circle cx="67.7" cy="145.15" r="4.7"/>
<circle cx="75.92" cy="144.81" r="4.7"/>
<circle cx="84.03" cy="144.74" r="4.7"/>
<circle cx="92.65" cy="146.24" r="4.7"/>
<circle cx="101.05" cy="144.66" r="4.7"/>
<circle cx="109.22" cy="145.43" r="4.7"/>
<circle cx="46.09" cy="153.44" r="4.7"/>
<circle cx="63.19" cy="152.93" r="4.7"/>
<circle cx="80.22" cy="151.94" r="4.7"/>
<circle cx="87.5" cy="153.22" r="4.7"/>
<circle cx="97.33" cy="151.98" r="4.7"/>
</g>
<circle cx="0.9" cy="0.63" r="3.59" fill="rgb(97,97,97)"/>
<circle cx="16.78" cy="0.41" r="3.70" fill="rgb(107,107,107)"/>
<circle cx="16.04" cy="0.53" r="1.18" fill="#353535"/>
<circle cx="25.16" cy="-0.38" r="3.71" fill="rgb(91,91,91)"/>
<circle cx="33.43" cy="-0.64" r="3.49" fill="rgb(103,103,103)"/>
<circle cx="41.78" cy="0.88" r="3.53" fill="rgb(94,94,94)"/>
<circle cx="41.54" cy="1.86" r="0.85" fill="#353535"/>
<circle cx="51.23" cy="0.23" r="3.56" fill="rgb(99,99,99)"/>
<circle cx="50.61" cy="0.48" r="1.37" fill="#353535"/>
<circle cx="58.8" cy="-0.29" r="3.62" fill="rgb(100,100,100)"/>
<circle cx="58.75" cy="-0.33" r="0.89" fill="#353535"/>
<circle cx="66.46" cy="-0.41" r="3.85" fill="rgb(109,109,109)"/>
<circle cx="193.63" cy="0.59" r="3.43" fill="rgb(105,105,105)"/>
<circle cx="201.33" cy="0.62" r="3.71" fill="rgb(100,100,100)"/>
<circle cx="201.34" cy="1.01" r="1.00" fill="#353535"/>
<circle cx="210.67" cy="0.34" r="3.49" fill="rgb(109,109,109)"/>
<circle cx="211.41" cy="0.76" r="0.90" fill="#353535"/>
<circle cx="4.54" cy="7.67" r="3.75" fill="rgb(100,100,100)"/>
<circle cx="13.01" cy="6.68" r="3.86" fill="rgb(110,110,110)"/>
<circle cx="21.5" cy="7.42" r="3.73" fill="rgb(107,107,107)"/>
<circle cx="22.66" cy="7.22" r="1.09" fill="#353535"/>
<circle cx="29.7" cy="7.13" r="3.78" fill="rgb(93,93,93)"/>
<circle cx="30.75" cy="7" r="1.14" fill="#353535"/>
<circle cx="38.02" cy="7.77" r="3.56" fill="rgb(95,95,95)"/>
<circle cx="46.45" cy="7.67" r="3.44" fill="rgb(92,92,92)"/>
<circle cx="53.75" cy="6.66" r="3.63" fill="rgb(108,108,108)"/>
<circle cx="62.89" cy="7.54" r="3.83" fill="rgb(88,88,88)"/>
<circle cx="62.86" cy="7.82" r="1.22" fill="#353535"/>
<circle cx="70.89" cy="7.61" r="3.80" fill="rgb(91,91,91)"/>
<circle cx="197.55" cy="8.1" r="3.82" fill="rgb(90,90,90)"/>
<circle cx="196.79" cy="7.19" r="0.81" fill="#353535"/>
<circle cx="206.37" cy="7.13" r="3.67" fill="rgb(101,101,101)"/>
<circle cx="214.76" cy="7.53" r="3.78" fill="rgb(108,108,108)"/>
<circle cx="214.1" cy="6.72" r="1.11" fill="#353535"/>
<circle cx="0.71" cy="13.65" r="3.85" fill="rgb(109,109,109)"/>
<circle cx="1.36" cy="13.86" r="0.81" fill="#353535"/>
<circle cx="7.69" cy="14.67" r="3.50" fill="rgb(89,89,89)"/>
<circle cx="17.01" cy="13.9" r="3.54" fill="rgb(96,96,96)"/>
<circle cx="17.76" cy="13.28" r="1.20" fill="#353535"/>
<circle cx="33.38" cy="14.43" r="3.65" fill="rgb(106,106,106)"/>
<circle cx="41.51" cy="14.17" r="3.56" fill="rgb(95,95,95)"/>
<circle cx="41.18" cy="12.97" r="0.87" fill="#353535"/>
<circle cx="51.25" cy="14.33" r="3.52" fill="rgb(92,92,92)"/>
<circle cx="50.61" cy="15.33" r="1.26" fill="#353535"/>
<circle cx="59.63" cy="15.29" r="3.45" fill="rgb(97,97,97)"/>
<circle cx="210.06" cy="14.25" r="3.46" fill="rgb(96,96,96)"/>
<circle cx="4.12" cy="22.57" r="3.42" fill="rgb(96,96,96)"/>
<circle cx="13.3" cy="21.91" r="3.45" fill="rgb(91,91,91)"/>
<circle cx="12.45" cy="22.94" r="0.93" fill="#353535"/>
<circle cx="20.13" cy="22.32" r="3.87" fill="rgb(98,98,98)"/>
<circle cx="21.07" cy="22.14" r="0.80" fill="#353535"/>
<circle cx="29.27" cy="21.96" r="3.82" fill="rgb(96,96,96)"/>
<circle cx="38.17" cy="22.06" r="3.77" fill="rgb(100,100,100)"/>
<circle cx="46.17" cy="22.56" r="3.56" fill="rgb(88,88,88)"/>
<circle cx="54.39" cy="21.63" r="3.85" fill="rgb(92,92,92)"/>
<circle cx="-0.77" cy="28.3" r="3.58" fill="rgb(92,92,92)"/>
<circle cx="8.54" cy="29.53" r="3.54" fill="rgb(97,97,97)"/>
<circle cx="9.65" cy="28.35" r="1.09" fill="#353535"/>
<circle cx="17.48" cy="28.44" r="3.45" fill="rgb(103,103,103)"/>
<circle cx="25.08" cy="28.76" r="3.52" fill="rgb(90,90,90)"/>
<circle cx="24.13" cy="28.14" r="1.40" fill="#353535"/>
<circle cx="42.79" cy="28.87" r="3.59" fill="rgb(107,107,107)"/>
<circle cx="43.2" cy="28.81" r="1.11" fill="#353535"/>
<circle cx="49.6" cy="29.45" r="3.47" fill="rgb(94,94,94)"/>
<circle cx="48.69" cy="29.23" r="0.81" fill="#353535"/>
<circle cx="58.17" cy="29.33" r="3.63" fill="rgb(109,109,109)"/>
<circle cx="118.03" cy="28.52" r="3.85" fill="rgb(98,98,98)"/>
<circle cx="117.37" cy="28.49" r="0.95" fill="#353535"/>
<circle cx="126.38" cy="29.38" r="3.44" fill="rgb(96,96,96)"/>
<circle cx="133.65" cy="29.4" r="3.67" fill="rgb(106,106,106)"/>
<circle cx="3.99" cy="35.72" r="3.42" fill="rgb(101,101,101)"/>
<circle cx="13.2" cy="36.64" r="3.73" fill="rgb(89,89,89)"/>
<circle cx="13.02" cy="37.45" r="1.16" fill="#353535"/>
<circle cx="21.55" cy="36.25" r="3.58" fill="rgb(94,94,94)"/>
<circle cx="30.03" cy="36.4" r="3.61" fill="rgb(104,104,104)"/>
<circle cx="31.1" cy="37.53" r="1.19" fill="#353535"/>
<circle cx="37.97" cy="36.5" r="3.79" fill="rgb(106,106,106)"/>
<circle cx="39.04" cy="37.38" r="1.09" fill="#353535"/>
<circle cx="46.63" cy="36.18" r="3.55" fill="rgb(102,102,102)"/>
<circle cx="53.87" cy="35.53" r="3.73" fill="rgb(98,98,98)"/>
<circle cx="54.13" cy="36.69" r="0.95" fill="#353535"/>
<circle cx="112.78" cy="35.76" r="3.54" fill="rgb(104,104,104)"/>
<circle cx="121.57" cy="36.17" r="3.74" fill="rgb(97,97,97)"/>
<circle cx="121.21" cy="35.79" r="0.90" fill="#353535"/>
<circle cx="138.16" cy="35.97" r="3.59" fill="rgb(95,95,95)"/>
<circle cx="138.41" cy="35.78" r="1.30" fill="#353535"/>
<circle cx="146.39" cy="35.99" r="3.70" fill="rgb(95,95,95)"/>
<circle cx="8.82" cy="44.04" r="3.57" fill="rgb(88,88,88)"/>
<circle cx="9.48" cy="45.02" r="1.06" fill="#353535"/>
<circle cx="16.19" cy="43.18" r="3.71" fill="rgb(104,104,104)"/>
<circle cx="16.73" cy="43.01" r="0.92" fill="#353535"/>
<circle cx="25.51" cy="44.44" r="3.60" fill="rgb(95,95,95)"/>
<circle cx="33.86" cy="43.52" r="3.88" fill="rgb(100,100,100)"/>
<circle cx="42.86" cy="42.76" r="3.48" fill="rgb(99,99,99)"/>
<circle cx="43.67" cy="42.3" r="1.00" fill="#353535"/>
<circle cx="49.61" cy="44.15" r="3.84" fill="rgb(95,95,95)"/>
<circle cx="58.64" cy="42.83" r="3.78" fill="rgb(89,89,89)"/>
<circle cx="57.65" cy="42.82" r="1.38" fill="#353535"/>
<circle cx="117.42" cy="42.85" r="3.55" fill="rgb(90,90,90)"/>
<circle cx="125.56" cy="43.48" r="3.75" fill="rgb(104,104,104)"/>
<circle cx="134.05" cy="42.84" r="3.64" fill="rgb(93,93,93)"/>
<circle cx="141.97" cy="44.5" r="3.89" fill="rgb(102,102,102)"/>
<circle cx="142.31" cy="45.46" r="0.82" fill="#353535"/>
<circle cx="150.62" cy="43.66" r="3.70" fill="rgb(110,110,110)"/>
<circle cx="151.24" cy="43.69" r="1.22" fill="#353535"/>
<circle cx="175.69" cy="43.72" r="3.56" fill="rgb(106,106,106)"/>
<circle cx="174.56" cy="42.58" r="1.20" fill="#353535"/>
<circle cx="185.56" cy="43.82" r="3.87" fill="rgb(99,99,99)"/>
<circle cx="193.84" cy="43.13" r="3.75" fill="rgb(91,91,91)"/>
<circle cx="195.02" cy="42.37" r="1.15" fill="#353535"/>
<circle cx="200.73" cy="43.72" r="3.56" fill="rgb(108,108,108)"/>
<circle cx="11.86" cy="51.41" r="3.70" fill="rgb(94,94,94)"/>
<circle cx="21.57" cy="50.58" r="3.70" fill="rgb(92,92,92)"/>
<circle cx="22.77" cy="50.34" r="1.07" fill="#353535"/>
<circle cx="37.34" cy="50.17" r="3.53" fill="rgb(110,110,110)"/>
<circle cx="38.49" cy="50.55" r="1.08" fill="#353535"/>
<circle cx="46.07" cy="51.06" r="3.79" fill="rgb(105,105,105)"/>
<circle cx="46.76" cy="51.77" r="0.85" fill="#353535"/>
<circle cx="113.87" cy="51.06" r="3.70" fill="rgb(91,91,91)"/>
<circle cx="121.7" cy="51.49" r="3.45" fill="rgb(107,107,107)"/>
<circle cx="120.82" cy="52.4" r="0.82" fill="#353535"/>
<circle cx="130.48" cy="51.74" r="3.59" fill="rgb(107,107,107)"/>
<circle cx="139.01" cy="51.28" r="3.53" fill="rgb(106,106,106)"/>
<circle cx="146.58" cy="51.48" r="3.79" fill="rgb(104,104,104)"/>
<circle cx="155.19" cy="50.26" r="3.69" fill="rgb(94,94,94)"/>
<circle cx="163.02" cy="50.33" r="3.65" fill="rgb(91,91,91)"/>
<circle cx="171.77" cy="51.24" r="3.57" fill="rgb(90,90,90)"/>
<circle cx="172.53" cy="51.83" r="1.26" fill="#353535"/>
<circle cx="180.21" cy="50.14" r="3.45" fill="rgb(100,100,100)"/>
<circle cx="179.2" cy="51.12" r="1.06" fill="#353535"/>
<circle cx="189.47" cy="51.02" r="3.54" fill="rgb(90,90,90)"/>
<circle cx="189.69" cy="51.72" r="1.15" fill="#353535"/>
<circle cx="196.55" cy="50.11" r="3.51" fill="rgb(109,109,109)"/>
<circle cx="17.18" cy="58.1" r="3.65" fill="rgb(101,101,101)"/>
<circle cx="16.24" cy="57.23" r="1.09" fill="#353535"/>
<circle cx="25.99" cy="58.73" r="3.85" fill="rgb(99,99,99)"/>
<circle cx="32.91" cy="57.87" r="3.41" fill="rgb(103,103,103)"/>
<circle cx="33.78" cy="58.18" r="0.88" fill="#353535"/>
<circle cx="42.75" cy="58.12" r="3.59" fill="rgb(89,89,89)"/>
<circle cx="41.95" cy="57.79" r="1.21" fill="#353535"/>
<circle cx="50.28" cy="58.09" r="3.64" fill="rgb(108,108,108)"/>
<circle cx="49.63" cy="58.86" r="1.09" fill="#353535"/>
<circle cx="109.17" cy="58.88" r="3.88" fill="rgb(109,109,109)"/>
<circle cx="109.7" cy="59.95" r="1.24" fill="#353535"/>
<circle cx="117.41" cy="57.68" r="3.84" fill="rgb(110,110,110)"/>
<circle cx="118.14" cy="57.76" r="1.36" fill="#353535"/>
<circle cx="134.51" cy="57.94" r="3.56" fill="rgb(98,98,98)"/>
<circle cx="143.25" cy="57.73" r="3.90" fill="rgb(101,101,101)"/>
<circle cx="142.99" cy="56.83" r="1.21" fill="#353535"/>
<circle cx="150.93" cy="57.74" r="3.74" fill="rgb(90,90,90)"/>
<circle cx="160.47" cy="58.81" r="3.50" fill="rgb(90,90,90)"/>
<circle cx="168.63" cy="58.41" r="3.62" fill="rgb(103,103,103)"/>
<circle cx="176.22" cy="57.55" r="3.52" fill="rgb(100,100,100)"/>
<circle cx="177.38" cy="56.81" r="1.34" fill="#353535"/>
<circle cx="192.37" cy="57.6" r="3.56" fill="rgb(109,109,109)"/>
<circle cx="192.16" cy="58.34" r="1.03" fill="#353535"/>
<circle cx="200.88" cy="58.59" r="3.56" fill="rgb(107,107,107)"/>
<circle cx="201.12" cy="57.42" r="1.06" fill="#353535"/>
<circle cx="210.72" cy="57.65" r="3.42" fill="rgb(94,94,94)"/>
<circle cx="210.42" cy="57.07" r="1.10" fill="#353535"/>
<circle cx="12.03" cy="65.27" r="3.63" fill="rgb(90,90,90)"/>
<circle cx="12.92" cy="64.49" r="1.28" fill="#353535"/>
<circle cx="20.67" cy="64.62" r="3.79" fill="rgb(89,89,89)"/>
<circle cx="29.06" cy="65.26" r="3.41" fill="rgb(108,108,108)"/>
<circle cx="30.22" cy="66.04" r="1.08" fill="#353535"/>
<circle cx="46.02" cy="66.34" r="3.67" fill="rgb(88,88,88)"/>
<circle cx="45.93" cy="65.2" r="0.94" fill="#353535"/>
<circle cx="122.19" cy="65.12" r="3.46" fill="rgb(99,99,99)"/>
<circle cx="130.97" cy="65.06" r="3.50" fill="rgb(110,110,110)"/>
<circle cx="130.3" cy="66.19" r="1.14" fill="#353535"/>
<circle cx="138.99" cy="64.7" r="3.51" fill="rgb(106,106,106)"/>
<circle cx="147.46" cy="65.78" r="3.84" fill="rgb(93,93,93)"/>
<circle cx="147.68" cy="66.08" r="0.81" fill="#353535"/>
<circle cx="156.22" cy="66.18" r="3.87" fill="rgb(96,96,96)"/>
<circle cx="155.06" cy="65.03" r="1.25" fill="#353535"/>
<circle cx="164.14" cy="66.08" r="3.47" fill="rgb(92,92,92)"/>
<circle cx="172.63" cy="65.67" r="3.49" fill="rgb(96,96,96)"/>
<circle cx="180.08" cy="65.5" r="3.56" fill="rgb(110,110,110)"/>
<circle cx="198.25" cy="65.55" r="3.73" fill="rgb(99,99,99)"/>
<circle cx="205.61" cy="64.57" r="3.75" fill="rgb(109,109,109)"/>
<circle cx="205.44" cy="63.78" r="0.95" fill="#353535"/>
<circle cx="214" cy="64.89" r="3.43" fill="rgb(98,98,98)"/>
<circle cx="9.1" cy="72.23" r="3.67" fill="rgb(104,104,104)"/>
<circle cx="16.45" cy="72.33" r="3.89" fill="rgb(92,92,92)"/>
<circle cx="25.42" cy="73.46" r="3.46" fill="rgb(90,90,90)"/>
<circle cx="25.99" cy="73.13" r="0.83" fill="#353535"/>
<circle cx="33" cy="72.98" r="3.87" fill="rgb(102,102,102)"/>
<circle cx="42.48" cy="72.25" r="3.73" fill="rgb(95,95,95)"/>
<circle cx="49.61" cy="72.86" r="3.63" fill="rgb(95,95,95)"/>
<circle cx="59.39" cy="73.43" r="3.82" fill="rgb(96,96,96)"/>
<circle cx="125.43" cy="72.19" r="3.84" fill="rgb(108,108,108)"/>
<circle cx="134.57" cy="73.01" r="3.87" fill="rgb(101,101,101)"/>
<circle cx="134.19" cy="72.35" r="0.87" fill="#353535"/>
<circle cx="143.14" cy="73.16" r="3.76" fill="rgb(88,88,88)"/>
<circle cx="150.41" cy="72.72" r="3.88" fill="rgb(106,106,106)"/>
<circle cx="167.67" cy="73.37" r="3.83" fill="rgb(109,109,109)"/>
<circle cx="167.29" cy="74.06" r="1.22" fill="#353535"/>
<circle cx="176.66" cy="73.51" r="3.87" fill="rgb(100,100,100)"/>
<circle cx="184.31" cy="73.1" r="3.76" fill="rgb(107,107,107)"/>
<circle cx="193.81" cy="72.7" r="3.64" fill="rgb(106,106,106)"/>
<circle cx="200.88" cy="72.19" r="3.90" fill="rgb(101,101,101)"/>
<circle cx="209.38" cy="72.01" r="3.85" fill="rgb(89,89,89)"/>
<circle cx="209.21" cy="71.7" r="1.40" fill="#353535"/>
<circle cx="46.52" cy="80.46" r="3.45" fill="rgb(94,94,94)"/>
<circle cx="45.63" cy="79.6" r="1.25" fill="#353535"/>
<circle cx="53.85" cy="79.84" r="3.44" fill="rgb(94,94,94)"/>
<circle cx="52.82" cy="80.85" r="1.13" fill="#353535"/>
<circle cx="63.08" cy="79.79" r="3.84" fill="rgb(107,107,107)"/>
<circle cx="105.47" cy="80.42" r="3.72" fill="rgb(96,96,96)"/>
<circle cx="104.95" cy="81.59" r="1.07" fill="#353535"/>
<circle cx="113.03" cy="79.33" r="3.80" fill="rgb(95,95,95)"/>
<circle cx="121.76" cy="79.76" r="3.46" fill="rgb(90,90,90)"/>
<circle cx="130.63" cy="80.77" r="3.79" fill="rgb(99,99,99)"/>
<circle cx="130.03" cy="80.48" r="1.08" fill="#353535"/>
<circle cx="138.39" cy="79.64" r="3.81" fill="rgb(101,101,101)"/>
<circle cx="137.51" cy="80.11" r="0.85" fill="#353535"/>
<circle cx="147" cy="80.37" r="3.48" fill="rgb(98,98,98)"/>
<circle cx="145.95" cy="80.75" r="1.32" fill="#353535"/>
<circle cx="155.92" cy="80.15" r="3.70" fill="rgb(107,107,107)"/>
<circle cx="156.84" cy="79.66" r="0.82" fill="#353535"/>
<circle cx="163.43" cy="79.72" r="3.65" fill="rgb(108,108,108)"/>
<circle cx="163.3" cy="80.53" r="1.18" fill="#353535"/>
<circle cx="172.83" cy="80.05" r="3.48" fill="rgb(98,98,98)"/>
<circle cx="179.79" cy="79.88" r="3.68" fill="rgb(102,102,102)"/>
<circle cx="179.72" cy="79.65" r="1.18" fill="#353535"/>
<circle cx="188.53" cy="80.32" r="3.59" fill="rgb(107,107,107)"/>
<circle cx="196.63" cy="79.61" r="3.84" fill="rgb(105,105,105)"/>
<circle cx="196.94" cy="78.84" r="1.34" fill="#353535"/>
<circle cx="205.07" cy="79.98" r="3.74" fill="rgb(110,110,110)"/>
<circle cx="205.05" cy="79.86" r="0.94" fill="#353535"/>
<circle cx="41.25" cy="86.9" r="3.61" fill="rgb(93,93,93)"/>
<circle cx="51.22" cy="87.63" r="3.49" fill="rgb(92,92,92)"/>
<circle cx="58.81" cy="86.49" r="3.50" fill="rgb(106,106,106)"/>
<circle cx="67.01" cy="87.79" r="3.83" fill="rgb(94,94,94)"/>
<circle cx="75.48" cy="87.46" r="3.90" fill="rgb(107,107,107)"/>
<circle cx="84.72" cy="87.55" r="3.41" fill="rgb(109,109,109)"/>
<circle cx="99.94" cy="87.78" r="3.75" fill="rgb(96,96,96)"/>
<circle cx="98.95" cy="88.96" r="1.35" fill="#353535"/>
<circle cx="109.04" cy="87.97" r="3.48" fill="rgb(108,108,108)"/>
<circle cx="118.19" cy="88.04" r="3.79" fill="rgb(94,94,94)"/>
<circle cx="125.78" cy="88.19" r="3.50" fill="rgb(102,102,102)"/>
<circle cx="134.86" cy="88" r="3.65" fill="rgb(99,99,99)"/>
<circle cx="134.01" cy="89.08" r="1.23" fill="#353535"/>
<circle cx="151.06" cy="88.14" r="3.44" fill="rgb(92,92,92)"/>
<circle cx="150.48" cy="89.02" r="0.94" fill="#353535"/>
<circle cx="160.49" cy="86.78" r="3.76" fill="rgb(109,109,109)"/>
<circle cx="160.47" cy="86.53" r="1.08" fill="#353535"/>
<circle cx="167.86" cy="86.88" r="3.52" fill="rgb(98,98,98)"/>
<circle cx="169.06" cy="87.56" r="0.82" fill="#353535"/>
<circle cx="176.35" cy="86.91" r="3.57" fill="rgb(96,96,96)"/>
<circle cx="185.1" cy="86.61" r="3.44" fill="rgb(106,106,106)"/>
<circle cx="192.6" cy="87.22" r="3.51" fill="rgb(100,100,100)"/>
<circle cx="192.74" cy="87.46" r="1.29" fill="#353535"/>
<circle cx="200.83" cy="87.08" r="3.52" fill="rgb(103,103,103)"/>
<circle cx="47.05" cy="94.93" r="3.51" fill="rgb(100,100,100)"/>
<circle cx="46.63" cy="95.78" r="1.35" fill="#353535"/>
<circle cx="63.26" cy="94.34" r="3.65" fill="rgb(94,94,94)"/>
<circle cx="71.16" cy="94.53" r="3.72" fill="rgb(98,98,98)"/>
<circle cx="71.98" cy="93.67" r="0.96" fill="#353535"/>
<circle cx="79.95" cy="95.41" r="3.58" fill="rgb(110,110,110)"/>
<circle cx="81.1" cy="95.57" r="0.91" fill="#353535"/>
<circle cx="87.73" cy="94.69" r="3.59" fill="rgb(89,89,89)"/>
<circle cx="96.17" cy="94.65" r="3.69" fill="rgb(100,100,100)"/>
<circle cx="105.42" cy="93.91" r="3.41" fill="rgb(93,93,93)"/>
<circle cx="104.55" cy="95.05" r="1.00" fill="#353535"/>
<circle cx="113.37" cy="94.94" r="3.57" fill="rgb(95,95,95)"/>
<circle cx="112.76" cy="95.1" r="1.37" fill="#353535"/>
<circle cx="120.91" cy="95.06" r="3.66" fill="rgb(92,92,92)"/>
<circle cx="130.05" cy="94.57" r="3.46" fill="rgb(109,109,109)"/>
<circle cx="130.31" cy="94.1" r="1.35" fill="#353535"/>
<circle cx="154.57" cy="94.36" r="3.74" fill="rgb(89,89,89)"/>
<circle cx="155.19" cy="93.97" r="1.32" fill="#353535"/>
<circle cx="163.52" cy="93.71" r="3.50" fill="rgb(101,101,101)"/>
<circle cx="180.88" cy="95.33" r="3.75" fill="rgb(88,88,88)"/>
<circle cx="197.78" cy="95.35" r="3.82" fill="rgb(98,98,98)"/>
<circle cx="41.72" cy="101.2" r="3.88" fill="rgb(100,100,100)"/>
<circle cx="41.19" cy="100.74" r="1.06" fill="#353535"/>
<circle cx="51.24" cy="101.42" r="3.49" fill="rgb(88,88,88)"/>
<circle cx="50.08" cy="101.03" r="1.24" fill="#353535"/>
<circle cx="58.4" cy="102.35" r="3.67" fill="rgb(102,102,102)"/>
<circle cx="58.62" cy="102.11" r="1.34" fill="#353535"/>
<circle cx="91.94" cy="101.42" r="3.77" fill="rgb(96,96,96)"/>
<circle cx="91.23" cy="102.1" r="1.10" fill="#353535"/>
<circle cx="101.48" cy="101.73" r="3.78" fill="rgb(88,88,88)"/>
<circle cx="102.25" cy="101.01" r="0.88" fill="#353535"/>
<circle cx="185.61" cy="101.14" r="3.55" fill="rgb(105,105,105)"/>
<circle cx="186.17" cy="100.65" r="1.07" fill="#353535"/>
<circle cx="192.42" cy="102.17" r="3.46" fill="rgb(93,93,93)"/>
<circle cx="37.37" cy="109.92" r="3.52" fill="rgb(99,99,99)"/>
<circle cx="37.22" cy="109.13" r="1.35" fill="#353535"/>
<circle cx="45.67" cy="108.37" r="3.70" fill="rgb(106,106,106)"/>
<circle cx="54.33" cy="108.36" r="3.65" fill="rgb(103,103,103)"/>
<circle cx="88.54" cy="109.02" r="3.51" fill="rgb(95,95,95)"/>
<circle cx="96.73" cy="109.86" r="3.81" fill="rgb(106,106,106)"/>
<circle cx="97.27" cy="110.68" r="1.29" fill="#353535"/>
<circle cx="104.36" cy="108.7" r="3.67" fill="rgb(97,97,97)"/>
<circle cx="103.94" cy="109.72" r="1.12" fill="#353535"/>
<circle cx="34.31" cy="116.4" r="3.84" fill="rgb(89,89,89)"/>
<circle cx="34.54" cy="115.93" r="1.28" fill="#353535"/>
<circle cx="41.29" cy="116.24" r="3.72" fill="rgb(89,89,89)"/>
<circle cx="49.91" cy="115.54" r="3.55" fill="rgb(103,103,103)"/>
<circle cx="92.88" cy="115.7" r="3.79" fill="rgb(89,89,89)"/>
<circle cx="37.19" cy="124.02" r="3.50" fill="rgb(95,95,95)"/>
<circle cx="36.63" cy="123.31" r="1.37" fill="#353535"/>
<circle cx="45.49" cy="123.81" r="3.50" fill="rgb(95,95,95)"/>
<circle cx="44.74" cy="123.72" r="1.01" fill="#353535"/>
<circle cx="54.15" cy="123.41" r="3.72" fill="rgb(91,91,91)"/>
<circle cx="62.19" cy="124.06" r="3.75" fill="rgb(99,99,99)"/>
<circle cx="62" cy="123.45" r="1.18" fill="#353535"/>
<circle cx="70.72" cy="124.14" r="3.67" fill="rgb(106,106,106)"/>
<circle cx="79.51" cy="123.83" r="3.53" fill="rgb(102,102,102)"/>
<circle cx="78.48" cy="122.81" r="1.37" fill="#353535"/>
<circle cx="88.45" cy="123.64" r="3.75" fill="rgb(109,109,109)"/>
<circle cx="89.42" cy="122.77" r="1.37" fill="#353535"/>
<circle cx="97.27" cy="124.42" r="3.60" fill="rgb(94,94,94)"/>
<circle cx="104.61" cy="123.37" r="3.48" fill="rgb(102,102,102)"/>
<circle cx="42.28" cy="131.09" r="3.70" fill="rgb(108,108,108)"/>
<circle cx="41.75" cy="131.57" r="0.98" fill="#353535"/>
<circle cx="50.84" cy="130.95" r="3.69" fill="rgb(101,101,101)"/>
<circle cx="51.81" cy="132.04" r="1.26" fill="#353535"/>
<circle cx="58.68" cy="130.59" r="3.56" fill="rgb(97,97,97)"/>
<circle cx="57.83" cy="131.69" r="1.39" fill="#353535"/>
<circle cx="67.62" cy="130.71" r="3.51" fill="rgb(97,97,97)"/>
<circle cx="66.87" cy="130.72" r="1.33" fill="#353535"/>
<circle cx="75.77" cy="131.4" r="3.41" fill="rgb(91,91,91)"/>
<circle cx="76.23" cy="131.06" r="0.95" fill="#353535"/>
<circle cx="83.9" cy="131.27" r="3.46" fill="rgb(97,97,97)"/>
<circle cx="83.92" cy="130.21" r="1.13" fill="#353535"/>
<circle cx="37.72" cy="138.7" r="3.41" fill="rgb(88,88,88)"/>
<circle cx="38.51" cy="139.24" r="1.35" fill="#353535"/>
<circle cx="46.55" cy="138.86" r="3.87" fill="rgb(99,99,99)"/>
<circle cx="45.63" cy="138.25" r="1.32" fill="#353535"/>
<circle cx="54.93" cy="138.69" r="3.48" fill="rgb(99,99,99)"/>
<circle cx="54.2" cy="139.55" r="1.11" fill="#353535"/>
<circle cx="63.67" cy="138.96" r="3.56" fill="rgb(96,96,96)"/>
<circle cx="63.94" cy="140.11" r="1.21" fill="#353535"/>
<circle cx="71.93" cy="138.06" r="3.54" fill="rgb(104,104,104)"/>
<circle cx="72.17" cy="138.69" r="1.28" fill="#353535"/>
<circle cx="80.09" cy="138.5" r="3.80" fill="rgb(94,94,94)"/>
<circle cx="80.42" cy="138.02" r="1.34" fill="#353535"/>
<circle cx="88.89" cy="138.6" r="3.65" fill="rgb(106,106,106)"/>
<circle cx="88.79" cy="139.07" r="1.10" fill="#353535"/>
<circle cx="96.5" cy="137.66" r="3.79" fill="rgb(100,100,100)"/>
<circle cx="-0.13" cy="145.38" r="3.74" fill="rgb(105,105,105)"/>
<circle cx="0.36" cy="145.02" r="1.18" fill="#353535"/>
<circle cx="42.17" cy="144.76" r="3.75" fill="rgb(94,94,94)"/>
<circle cx="50.81" cy="145.32" r="3.41" fill="rgb(99,99,99)"/>
<circle cx="50.72" cy="145.96" r="1.29" fill="#353535"/>
<circle cx="58.48" cy="146.13" r="3.80" fill="rgb(91,91,91)"/>
<circle cx="67.7" cy="145.15" r="3.46" fill="rgb(94,94,94)"/>
<circle cx="75.92" cy="144.81" r="3.80" fill="rgb(101,101,101)"/>
<circle cx="75.48" cy="143.94" r="1.35" fill="#353535"/>
<circle cx="84.03" cy="144.74" r="3.74" fill="rgb(94,94,94)"/>
<circle cx="84.37" cy="145.49" r="1.13" fill="#353535"/>
<circle cx="92.65" cy="146.24" r="3.66" fill="rgb(88,88,88)"/>
<circle cx="101.05" cy="144.66" r="3.75" fill="rgb(104,104,104)"/>
<circle cx="109.22" cy="145.43" r="3.83" fill="rgb(100,100,100)"/>
<circle cx="108.12" cy="145.36" r="0.82" fill="#353535"/>
<circle cx="46.09" cy="153.44" r="3.87" fill="rgb(108,108,108)"/>
<circle cx="46.42" cy="153.96" r="1.02" fill="#353535"/>
<circle cx="63.19" cy="152.93" r="3.82" fill="rgb(98,98,98)"/>
<circle cx="80.22" cy="151.94" r="3.45" fill="rgb(95,95,95)"/>
<circle cx="87.5" cy="153.22" r="3.67" fill="rgb(93,93,93)"/>
<circle cx="88.29" cy="153.16" r="1.25" fill="#353535"/>
<circle cx="97.33" cy="151.98" r="3.80" fill="rgb(104,104,104)"/>
</g>
<circle cx="178.21" cy="126.58" r="2.9" fill="#7e7e7e"/>
<circle cx="181.93" cy="126.58" r="2.9" fill="#7e7e7e"/>
<circle cx="182.43" cy="126.08" r="1.0" fill="#3a3a3a"/>
<circle cx="173.75" cy="130.3" r="2.9" fill="#7e7e7e"/>
<circle cx="177.47" cy="133.27" r="2.9" fill="#7e7e7e"/>
<circle cx="177.97" cy="132.77" r="1.0" fill="#3a3a3a"/>
<circle cx="180.45" cy="136.99" r="2.9" fill="#7e7e7e"/>
<circle cx="180.95" cy="136.49" r="1.0" fill="#3a3a3a"/>
<circle cx="195.32" cy="135.5" r="2.9" fill="#7e7e7e"/>
<circle cx="195.82" cy="135" r="1.0" fill="#3a3a3a"/>
</g>
</svg>
<text transform="translate(11.75 217)" font-size="21" font-weight="bold" text-anchor="start" fill="#fff" >(b)</text>
<text transform="translate(164.5 218.7)" font-size="13.8" font-weight="bold" text-anchor="start" fill="#fff" >80 °C</text>
<text transform="translate(11.8 320.7) scale(1.045 1)" font-size="13.6" font-weight="bold" text-anchor="start" fill="#fff" >20 nm</text>
<rect x="15.3" y="328.3" width="35.2" height="5.4" fill="#f4f4f4"/>
<g fill="#0000ff">
<rect x="284.99" y="143.38" width="15.1" height="3.12"/>
<rect x="303.87" y="130.93" width="15.1" height="15.57"/>
<rect x="322.75" y="104.97" width="15.1" height="41.53"/>
<rect x="341.63" y="57.2" width="15.1" height="89.3"/>
<rect x="360.51" y="43.7" width="15.1" height="102.8"/>
<rect x="379.39" y="39.55" width="15.1" height="106.95"/>
<rect x="398.27" y="68.62" width="15.1" height="77.88"/>
<rect x="417.15" y="108.08" width="15.1" height="38.42"/>
<rect x="436.03" y="135.08" width="15.1" height="11.42"/>
</g>
<polyline points="293.51,146.28 293.98,146.06 294.46,145.82 294.93,145.58 295.40,145.34 295.88,145.08 296.35,144.83 296.82,144.56 297.30,144.29 297.77,144.01 298.24,143.72 298.72,143.42 299.19,143.12 299.66,142.81 300.13,142.50 300.61,142.17 301.08,141.84 301.55,141.50 302.03,141.15 302.50,140.80 302.97,140.43 303.45,140.06 303.92,139.68 304.39,139.29 304.87,138.89 305.34,138.48 305.81,138.07 306.29,137.64 306.76,137.21 307.23,136.77 307.71,136.32 308.18,135.85 308.65,135.38 309.13,134.91 309.60,134.42 310.07,133.92 310.54,133.41 311.02,132.89 311.49,132.37 311.96,131.83 312.44,131.28 312.91,130.73 313.38,130.16 313.86,129.58 314.33,129.00 314.80,128.40 315.28,127.79 315.75,127.18 316.22,126.55 316.70,125.92 317.17,125.27 317.64,124.62 318.12,123.95 318.59,123.27 319.06,122.59 319.54,121.89 320.01,121.19 320.48,120.47 320.95,119.75 321.43,119.02 321.90,118.27 322.37,117.52 322.85,116.76 323.32,115.98 323.79,115.20 324.27,114.41 324.74,113.61 325.21,112.81 325.69,111.99 326.16,111.16 326.63,110.33 327.11,109.49 327.58,108.64 328.05,107.78 328.53,106.91 329.00,106.04 329.47,105.16 329.95,104.27 330.42,103.37 330.89,102.47 331.36,101.56 331.84,100.64 332.31,99.72 332.78,98.79 333.26,97.86 333.73,96.92 334.20,95.98 334.68,95.03 335.15,94.07 335.62,93.12 336.10,92.15 336.57,91.19 337.04,90.22 337.52,89.25 337.99,88.27 338.46,87.29 338.94,86.32 339.41,85.33 339.88,84.35 340.36,83.37 340.83,82.38 341.30,81.40 341.77,80.41 342.25,79.43 342.72,78.45 343.19,77.46 343.67,76.48 344.14,75.50 344.61,74.53 345.09,73.55 345.56,72.58 346.03,71.61 346.51,70.65 346.98,69.69 347.45,68.74 347.93,67.79 348.40,66.85 348.87,65.91 349.35,64.98 349.82,64.05 350.29,63.14 350.77,62.23 351.24,61.33 351.71,60.44 352.18,59.55 352.66,58.68 353.13,57.82 353.60,56.96 354.08,56.12 354.55,55.29 355.02,54.47 355.50,53.66 355.97,52.86 356.44,52.08 356.92,51.31 357.39,50.55 357.86,49.81 358.34,49.08 358.81,48.37 359.28,47.67 359.76,46.98 360.23,46.32 360.70,45.67 361.18,45.03 361.65,44.41 362.12,43.81 362.59,43.23 363.07,42.66 363.54,42.11 364.01,41.58 364.49,41.07 364.96,40.58 365.43,40.11 365.91,39.65 366.38,39.22 366.85,38.80 367.33,38.41 367.80,38.04 368.27,37.68 368.75,37.35 369.22,37.04 369.69,36.75 370.17,36.48 370.64,36.24 371.11,36.01 371.59,35.81 372.06,35.62 372.53,35.46 373.00,35.33 373.48,35.21 373.95,35.12 374.42,35.04 374.90,34.99 375.37,34.97 375.84,34.96 376.32,34.98 376.79,35.02 377.26,35.08 377.74,35.17 378.21,35.27 378.68,35.40 379.16,35.55 379.63,35.73 380.10,35.92 380.58,36.14 381.05,36.38 381.52,36.64 382.00,36.92 382.47,37.22 382.94,37.54 383.41,37.89 383.89,38.25 384.36,38.64 384.83,39.04 385.31,39.47 385.78,39.91 386.25,40.38 386.73,40.86 387.20,41.37 387.67,41.89 388.15,42.43 388.62,42.99 389.09,43.56 389.57,44.16 390.04,44.77 390.51,45.40 390.99,46.04 391.46,46.70 391.93,47.38 392.41,48.07 392.88,48.78 393.35,49.50 393.82,50.24 394.30,50.99 394.77,51.75 395.24,52.53 395.72,53.32 396.19,54.13 396.66,54.94 397.14,55.77 397.61,56.61 398.08,57.46 398.56,58.32 399.03,59.19 399.50,60.06 399.98,60.95 400.45,61.85 400.92,62.76 401.40,63.67 401.87,64.59 402.34,65.52 402.82,66.45 403.29,67.39 403.76,68.34 404.23,69.29 404.71,70.25 405.18,71.21 405.65,72.18 406.13,73.15 406.60,74.12 407.07,75.09 407.55,76.07 408.02,77.05 408.49,78.03 408.97,79.02 409.44,80.00 409.91,80.99 410.39,81.97 410.86,82.96 411.33,83.94 411.81,84.92 412.28,85.90 412.75,86.88 413.23,87.86 413.70,88.84 414.17,89.81 414.64,90.78 415.12,91.75 415.59,92.71 416.06,93.67 416.54,94.63 417.01,95.58 417.48,96.53 417.96,97.47 418.43,98.40 418.90,99.33 419.38,100.26 419.85,101.18 420.32,102.09 420.80,102.99 421.27,103.89 421.74,104.78 422.22,105.67 422.69,106.55 423.16,107.42 423.64,108.28 424.11,109.13 424.58,109.98 425.05,110.81 425.53,111.64 426.00,112.46 426.47,113.28 426.95,114.08 427.42,114.87 427.89,115.66 428.37,116.43 428.84,117.20 429.31,117.96 429.79,118.70 430.26,119.44 430.73,120.17 431.21,120.89 431.68,121.60 432.15,122.30 432.63,122.99 433.10,123.67 433.57,124.34 434.05,125.00 434.52,125.65 434.99,126.29 435.46,126.92 435.94,127.54 436.41,128.15 436.88,128.75 437.36,129.34 437.83,129.92 438.30,130.49 438.78,131.05 439.25,131.60 439.72,132.14 440.20,132.67 440.67,133.19 441.14,133.71 441.62,134.21 442.09,134.70 442.56,135.18 443.04,135.66 443.51,136.12 443.98,136.58 444.46,137.03 444.93,137.46 445.40,137.89 445.87,138.31 446.35,138.72 446.82,139.12 447.29,139.52 447.77,139.90 448.24,140.28 448.71,140.64 449.19,141.00 449.66,141.35 450.13,141.70 450.61,142.03 451.08,142.36 451.55,142.68 452.03,142.99 452.50,143.30 452.97,143.60 453.45,143.89 453.92,144.17 454.39,144.45 454.87,144.71 455.34,144.98 455.81,145.23 456.28,145.48 456.76,145.72 457.23,145.96 457.70,146.19 458.18,146.41" fill="none" stroke="#ff0000" stroke-width="1.9"/>
<rect x="283.1" y="11" width="188.8" height="135.5" fill="none" stroke="#000" stroke-width="1.6"/>
<path d="M283.1 146.5h-3 M283.1 136.12h-2 M283.1 125.73h-3 M283.1 115.35h-2 M283.1 104.97h-3 M283.1 94.58h-2 M283.1 84.2h-3 M283.1 73.82h-2 M283.1 63.43h-3 M283.1 53.05h-2 M283.1 42.67h-3 M283.1 32.28h-2 M283.1 21.9h-3 M283.1 11.52h-2 M283.1 146.5v3 M294.9 146.5v2 M306.7 146.5v3 M318.5 146.5v2 M330.3 146.5v3 M342.1 146.5v2 M353.9 146.5v3 M365.7 146.5v2 M377.5 146.5v3 M389.3 146.5v2 M401.1 146.5v3 M412.9 146.5v2 M424.7 146.5v3 M436.5 146.5v2 M448.3 146.5v3 M460.1 146.5v2 M471.9 146.5v3" stroke="#000" stroke-width="1.4" fill="none"/>
<text transform="translate(278.8 150.75)" font-size="12.3" font-weight="bold" text-anchor="end" fill="#000" stroke="#000" stroke-width="0.3" >0</text>
<text transform="translate(278.8 129.98)" font-size="12.3" font-weight="bold" text-anchor="end" fill="#000" stroke="#000" stroke-width="0.3" >20</text>
<text transform="translate(278.8 109.22)" font-size="12.3" font-weight="bold" text-anchor="end" fill="#000" stroke="#000" stroke-width="0.3" >40</text>
<text transform="translate(278.8 88.45)" font-size="12.3" font-weight="bold" text-anchor="end" fill="#000" stroke="#000" stroke-width="0.3" >60</text>
<text transform="translate(278.8 67.68)" font-size="12.3" font-weight="bold" text-anchor="end" fill="#000" stroke="#000" stroke-width="0.3" >80</text>
<text transform="translate(278.8 46.92)" font-size="12.3" font-weight="bold" text-anchor="end" fill="#000" stroke="#000" stroke-width="0.3" >100</text>
<text transform="translate(278.8 26.15)" font-size="12.3" font-weight="bold" text-anchor="end" fill="#000" stroke="#000" stroke-width="0.3" >120</text>
<text transform="translate(283.1 160.6)" font-size="12.3" font-weight="bold" text-anchor="middle" fill="#000" stroke="#000" stroke-width="0.3" >6</text>
<text transform="translate(306.7 160.6)" font-size="12.3" font-weight="bold" text-anchor="middle" fill="#000" stroke="#000" stroke-width="0.3" >7</text>
<text transform="translate(330.3 160.6)" font-size="12.3" font-weight="bold" text-anchor="middle" fill="#000" stroke="#000" stroke-width="0.3" >8</text>
<text transform="translate(353.9 160.6)" font-size="12.3" font-weight="bold" text-anchor="middle" fill="#000" stroke="#000" stroke-width="0.3" >9</text>
<text transform="translate(377.5 160.6)" font-size="12.3" font-weight="bold" text-anchor="middle" fill="#000" stroke="#000" stroke-width="0.3" >10</text>
<text transform="translate(401.1 160.6)" font-size="12.3" font-weight="bold" text-anchor="middle" fill="#000" stroke="#000" stroke-width="0.3" >11</text>
<text transform="translate(424.7 160.6)" font-size="12.3" font-weight="bold" text-anchor="middle" fill="#000" stroke="#000" stroke-width="0.3" >12</text>
<text transform="translate(448.3 160.6)" font-size="12.3" font-weight="bold" text-anchor="middle" fill="#000" stroke="#000" stroke-width="0.3" >13</text>
<text transform="translate(471.9 160.6)" font-size="12.3" font-weight="bold" text-anchor="middle" fill="#000" stroke="#000" stroke-width="0.3" >14</text>
<text transform="translate(313.65 174.3)" font-size="15" font-weight="bold" text-anchor="start" fill="#000" stroke="#000" stroke-width="0.3" >Particle size (nm)</text>
<text transform="translate(253.8 88.5) rotate(-90) scale(0.93 1)" font-size="16" font-weight="bold" text-anchor="middle" fill="#000" stroke="#000" stroke-width="0.3" >Counts</text>
<text transform="translate(227.2 24.3)" font-size="20.5" font-weight="bold" text-anchor="start" fill="#000" stroke="#000" stroke-width="0.3" >(c)</text>
<text x="420.5" y="30.0" font-size="9.2" font-weight="bold">160<tspan font-weight="300" font-family="'Liberation Sans', 'Noto Sans CJK SC', sans-serif" font-size="8.6">℃</tspan></text>
<text x="420.5" y="42.3" font-size="9.2" font-weight="bold">μ=10.0 nm</text>
<text x="420.5" y="54.0" font-size="9.2" font-weight="bold">σ=1.5 nm</text>
<g fill="#0000ff">
<rect x="285.11" y="300.32" width="15.31" height="24.48"/>
<rect x="304.25" y="293.32" width="15.31" height="31.48"/>
<rect x="323.39" y="258.35" width="15.31" height="66.45"/>
<rect x="342.53" y="230.37" width="15.31" height="94.43"/>
<rect x="361.67" y="212.88" width="15.31" height="111.92"/>
<rect x="380.81" y="219.88" width="15.31" height="104.92"/>
<rect x="399.95" y="247.86" width="15.31" height="76.95"/>
<rect x="419.09" y="265.34" width="15.31" height="59.46"/>
<rect x="438.23" y="293.32" width="15.31" height="31.48"/>
<rect x="457.37" y="317.81" width="15.31" height="7"/>
</g>
<polyline points="292.77,306.18 293.35,305.71 293.92,305.24 294.50,304.76 295.08,304.27 295.66,303.77 296.23,303.26 296.81,302.74 297.39,302.22 297.97,301.68 298.54,301.14 299.12,300.59 299.70,300.03 300.28,299.47 300.85,298.89 301.43,298.31 302.01,297.71 302.59,297.11 303.16,296.50 303.74,295.88 304.32,295.26 304.90,294.62 305.47,293.98 306.05,293.33 306.63,292.67 307.21,292.00 307.78,291.32 308.36,290.64 308.94,289.95 309.51,289.25 310.09,288.54 310.67,287.83 311.25,287.10 311.82,286.37 312.40,285.63 312.98,284.89 313.56,284.14 314.13,283.38 314.71,282.61 315.29,281.84 315.87,281.06 316.44,280.27 317.02,279.48 317.60,278.68 318.18,277.88 318.75,277.07 319.33,276.25 319.91,275.43 320.49,274.61 321.06,273.78 321.64,272.94 322.22,272.10 322.79,271.25 323.37,270.41 323.95,269.55 324.53,268.70 325.10,267.84 325.68,266.97 326.26,266.11 326.84,265.24 327.41,264.37 327.99,263.49 328.57,262.62 329.15,261.74 329.72,260.86 330.30,259.98 330.88,259.10 331.46,258.22 332.03,257.34 332.61,256.46 333.19,255.58 333.77,254.70 334.34,253.83 334.92,252.95 335.50,252.08 336.08,251.20 336.65,250.33 337.23,249.47 337.81,248.60 338.38,247.74 338.96,246.88 339.54,246.03 340.12,245.18 340.69,244.34 341.27,243.50 341.85,242.67 342.43,241.84 343.00,241.02 343.58,240.20 344.16,239.39 344.74,238.59 345.31,237.80 345.89,237.01 346.47,236.24 347.05,235.47 347.62,234.71 348.20,233.96 348.78,233.22 349.36,232.49 349.93,231.77 350.51,231.06 351.09,230.36 351.66,229.67 352.24,228.99 352.82,228.33 353.40,227.68 353.97,227.04 354.55,226.41 355.13,225.79 355.71,225.19 356.28,224.61 356.86,224.03 357.44,223.48 358.02,222.93 358.59,222.40 359.17,221.89 359.75,221.39 360.33,220.91 360.90,220.44 361.48,219.99 362.06,219.55 362.64,219.13 363.21,218.73 363.79,218.35 364.37,217.98 364.95,217.63 365.52,217.29 366.10,216.98 366.68,216.68 367.25,216.40 367.83,216.14 368.41,215.89 368.99,215.67 369.56,215.46 370.14,215.27 370.72,215.10 371.30,214.95 371.87,214.82 372.45,214.70 373.03,214.61 373.61,214.53 374.18,214.48 374.76,214.44 375.34,214.42 375.92,214.42 376.49,214.44 377.07,214.48 377.65,214.54 378.23,214.61 378.80,214.71 379.38,214.83 379.96,214.96 380.53,215.11 381.11,215.28 381.69,215.47 382.27,215.68 382.84,215.91 383.42,216.15 384.00,216.42 384.58,216.70 385.15,217.00 385.73,217.31 386.31,217.65 386.89,218.00 387.46,218.37 388.04,218.76 388.62,219.16 389.20,219.58 389.77,220.02 390.35,220.47 390.93,220.94 391.51,221.42 392.08,221.92 392.66,222.44 393.24,222.97 393.82,223.51 394.39,224.07 394.97,224.65 395.55,225.23 396.12,225.84 396.70,226.45 397.28,227.08 397.86,227.72 398.43,228.37 399.01,229.04 399.59,229.71 400.17,230.40 400.74,231.10 401.32,231.81 401.90,232.53 402.48,233.27 403.05,234.01 403.63,234.76 404.21,235.52 404.79,236.29 405.36,237.07 405.94,237.85 406.52,238.65 407.10,239.45 407.67,240.26 408.25,241.07 408.83,241.89 409.40,242.72 409.98,243.55 410.56,244.39 411.14,245.24 411.71,246.09 412.29,246.94 412.87,247.80 413.45,248.66 414.02,249.52 414.60,250.39 415.18,251.26 415.76,252.13 416.33,253.01 416.91,253.88 417.49,254.76 418.07,255.64 418.64,256.52 419.22,257.40 419.80,258.28 420.38,259.16 420.95,260.04 421.53,260.92 422.11,261.80 422.69,262.68 423.26,263.55 423.84,264.42 424.42,265.30 424.99,266.16 425.57,267.03 426.15,267.89 426.73,268.75 427.30,269.61 427.88,270.46 428.46,271.31 429.04,272.16 429.61,273.00 430.19,273.83 430.77,274.66 431.35,275.49 431.92,276.31 432.50,277.12 433.08,277.93 433.66,278.74 434.23,279.53 434.81,280.33 435.39,281.11 435.97,281.89 436.54,282.66 437.12,283.43 437.70,284.19 438.27,284.94 438.85,285.68 439.43,286.42 440.01,287.15 440.58,287.87 441.16,288.59 441.74,289.30 442.32,289.99 442.89,290.69 443.47,291.37 444.05,292.04 444.63,292.71 445.20,293.37 445.78,294.02 446.36,294.67 446.94,295.30 447.51,295.93 448.09,296.54 448.67,297.15 449.25,297.75 449.82,298.35 450.40,298.93 450.98,299.50 451.56,300.07 452.13,300.63 452.71,301.18 453.29,301.72 453.86,302.25 454.44,302.78 455.02,303.29 455.60,303.80 456.17,304.30 456.75,304.79 457.33,305.27 457.91,305.75 458.48,306.21 459.06,306.67 459.64,307.12 460.22,307.56 460.79,307.99 461.37,308.42 461.95,308.83 462.53,309.24 463.10,309.64 463.68,310.04 464.26,310.42 464.84,310.80 465.41,311.17" fill="none" stroke="#ff0000" stroke-width="1.9"/>
<rect x="283.2" y="184.9" width="191.4" height="139.9" fill="none" stroke="#000" stroke-width="1.6"/>
<path d="M283.2 324.8h-3 M283.2 307.31h-2 M283.2 289.82h-3 M283.2 272.34h-2 M283.2 254.85h-3 M283.2 237.36h-2 M283.2 219.88h-3 M283.2 202.39h-2 M283.2 184.9h-3 M283.2 324.8v3 M302.34 324.8v2 M321.48 324.8v3 M340.62 324.8v2 M359.76 324.8v3 M378.9 324.8v2 M398.04 324.8v3 M417.18 324.8v2 M436.32 324.8v3 M455.46 324.8v2 M474.6 324.8v3" stroke="#000" stroke-width="1.4" fill="none"/>
<text transform="translate(278.9 329.05)" font-size="12.3" font-weight="bold" text-anchor="end" fill="#000" stroke="#000" stroke-width="0.3" >0</text>
<text transform="translate(278.9 294.07)" font-size="12.3" font-weight="bold" text-anchor="end" fill="#000" stroke="#000" stroke-width="0.3" >10</text>
<text transform="translate(278.9 259.1)" font-size="12.3" font-weight="bold" text-anchor="end" fill="#000" stroke="#000" stroke-width="0.3" >20</text>
<text transform="translate(278.9 224.12)" font-size="12.3" font-weight="bold" text-anchor="end" fill="#000" stroke="#000" stroke-width="0.3" >30</text>
<text transform="translate(278.9 189.15)" font-size="12.3" font-weight="bold" text-anchor="end" fill="#000" stroke="#000" stroke-width="0.3" >40</text>
<text transform="translate(283.2 338.4)" font-size="12.3" font-weight="bold" text-anchor="middle" fill="#000" stroke="#000" stroke-width="0.3" >2</text>
<text transform="translate(321.48 338.4)" font-size="12.3" font-weight="bold" text-anchor="middle" fill="#000" stroke="#000" stroke-width="0.3" >3</text>
<text transform="translate(359.76 338.4)" font-size="12.3" font-weight="bold" text-anchor="middle" fill="#000" stroke="#000" stroke-width="0.3" >4</text>
<text transform="translate(398.04 338.4)" font-size="12.3" font-weight="bold" text-anchor="middle" fill="#000" stroke="#000" stroke-width="0.3" >5</text>
<text transform="translate(436.32 338.4)" font-size="12.3" font-weight="bold" text-anchor="middle" fill="#000" stroke="#000" stroke-width="0.3" >6</text>
<text transform="translate(474.6 338.4)" font-size="12.3" font-weight="bold" text-anchor="middle" fill="#000" stroke="#000" stroke-width="0.3" >7</text>
<text transform="translate(310.6 351.9) scale(1.01 1)" font-size="15" font-weight="bold" text-anchor="start" fill="#000" stroke="#000" stroke-width="0.3" >Particle size (nm)</text>
<text transform="translate(253.2 257.2) rotate(-90) scale(0.93 1)" font-size="16" font-weight="bold" text-anchor="middle" fill="#000" stroke="#000" stroke-width="0.3" >Counts</text>
<text transform="translate(227.2 207.9)" font-size="20.8" font-weight="bold" text-anchor="start" fill="#000" stroke="#000" stroke-width="0.3" >(d)</text>
<text x="420.8" y="206" font-size="9.2" font-weight="bold">80<tspan font-weight="300" font-family="'Liberation Sans', 'Noto Sans CJK SC', sans-serif" font-size="8.6">℃</tspan></text>
<text x="420.8" y="218.5" font-size="9.2" font-weight="bold">μ=4.4 nm</text>
<text x="420.8" y="230.5" font-size="9.2" font-weight="bold">σ=1.1 nm</text>
<rect x="164" y="364.1" width="202.6" height="140.7" fill="none" stroke="#000" stroke-width="1.6"/>
<path d="M164 504.8h-2 M164 499.17h-2 M164 493.54h-2 M164 487.92h-2 M164 482.29h-3 M164 476.66h-2 M164 471.03h-2 M164 465.4h-2 M164 459.78h-2 M164 454.15h-3 M164 448.52h-2 M164 442.89h-2 M164 437.26h-2 M164 431.64h-2 M164 426.01h-3 M164 420.38h-2 M164 414.75h-2 M164 409.12h-2 M164 403.5h-2 M164 397.87h-3 M164 392.24h-2 M164 386.61h-2 M164 380.98h-2 M164 375.36h-2 M164 369.73h-3 M164 364.1h-2 M164 504.8v2 M184.26 504.8v3 M204.52 504.8v2 M224.78 504.8v3 M245.04 504.8v2 M265.3 504.8v3 M285.56 504.8v2 M305.82 504.8v3 M326.08 504.8v2 M346.34 504.8v3 M366.6 504.8v2" stroke="#000" stroke-width="1.4" fill="none"/>
<path d="M184.26 461.18V492.14M182.46 461.18h3.6M182.46 492.14h3.6 M204.52 458.37V489.32M202.72 458.37h3.6M202.72 489.32h3.6 M224.78 448.52V485.1M222.98 448.52h3.6M222.98 485.1h3.6 M245.04 444.3V480.88M243.24 444.3h3.6M243.24 480.88h3.6 M265.3 434.45V468.22M263.5 434.45h3.6M263.5 468.22h3.6 M285.56 433.04V466.81M283.76 433.04h3.6M283.76 466.81h3.6 M305.82 418.97V461.18M304.02 418.97h3.6M304.02 461.18h3.6 M326.08 392.24V431.64M324.28 392.24h3.6M324.28 431.64h3.6 M346.34 376.76V418.97M344.54 376.76h3.6M344.54 418.97h3.6" stroke="#333" stroke-width="0.9" fill="none"/>
<g fill="#000">
<rect x="182.06" y="474.46" width="4.4" height="4.4"/>
<rect x="202.32" y="471.65" width="4.4" height="4.4"/>
<rect x="222.58" y="464.61" width="4.4" height="4.4"/>
<rect x="242.84" y="460.39" width="4.4" height="4.4"/>
<rect x="263.1" y="449.13" width="4.4" height="4.4"/>
<rect x="283.36" y="447.73" width="4.4" height="4.4"/>
<rect x="303.62" y="437.88" width="4.4" height="4.4"/>
<rect x="323.88" y="409.74" width="4.4" height="4.4"/>
<rect x="344.14" y="395.67" width="4.4" height="4.4"/>
</g>
<text transform="translate(159.1 486.89) scale(1.05 1)" font-size="13" font-weight="bold" text-anchor="end" fill="#000" stroke="#000" stroke-width="0.3" >4</text>
<text transform="translate(159.1 458.75) scale(1.05 1)" font-size="13" font-weight="bold" text-anchor="end" fill="#000" stroke="#000" stroke-width="0.3" >6</text>
<text transform="translate(159.1 430.61) scale(1.05 1)" font-size="13" font-weight="bold" text-anchor="end" fill="#000" stroke="#000" stroke-width="0.3" >8</text>
<text transform="translate(159.1 402.47) scale(1.05 1)" font-size="13" font-weight="bold" text-anchor="end" fill="#000" stroke="#000" stroke-width="0.3" >10</text>
<text transform="translate(159.1 374.33) scale(1.05 1)" font-size="13" font-weight="bold" text-anchor="end" fill="#000" stroke="#000" stroke-width="0.3" >12</text>
<text transform="translate(183.86 520.6) scale(1.05 1)" font-size="13" font-weight="bold" text-anchor="middle" fill="#000" stroke="#000" stroke-width="0.3" >80</text>
<text transform="translate(224.38 520.6) scale(1.05 1)" font-size="13" font-weight="bold" text-anchor="middle" fill="#000" stroke="#000" stroke-width="0.3" >100</text>
<text transform="translate(264.9 520.6) scale(1.05 1)" font-size="13" font-weight="bold" text-anchor="middle" fill="#000" stroke="#000" stroke-width="0.3" >120</text>
<text transform="translate(305.42 520.6) scale(1.05 1)" font-size="13" font-weight="bold" text-anchor="middle" fill="#000" stroke="#000" stroke-width="0.3" >140</text>
<text transform="translate(345.94 520.6) scale(1.05 1)" font-size="13" font-weight="bold" text-anchor="middle" fill="#000" stroke="#000" stroke-width="0.3" >160</text>
<text transform="translate(192.75 541.8) scale(1.11 1)" font-size="15" font-weight="bold" text-anchor="start" fill="#000" stroke="#000" stroke-width="0.3" >Temperature</text>
<text transform="translate(298.9 541.8)" font-size="15" font-weight="bold" text-anchor="start" fill="#000" stroke="#000" stroke-width="0.3" >(</text>
<text transform="translate(302.9 541.8) scale(1.17 1)" font-size="15" font-weight="300" text-anchor="start" fill="#000" font-family="'Liberation Sans', 'Noto Sans CJK SC', sans-serif">℃</text>
<text transform="translate(322.3 541.8)" font-size="15" font-weight="bold" text-anchor="start" fill="#000" stroke="#000" stroke-width="0.3" >)</text>
<text transform="translate(135.7 444.85) rotate(-90) scale(1.067 1)" font-size="16" font-weight="bold" text-anchor="middle" fill="#000" stroke="#000" stroke-width="0.3" >NC diameter (nm)</text>
<text transform="translate(80 384.8)" font-size="21.3" font-weight="bold" text-anchor="start" fill="#000" >(e)</text>
</svg>
</body></html>
